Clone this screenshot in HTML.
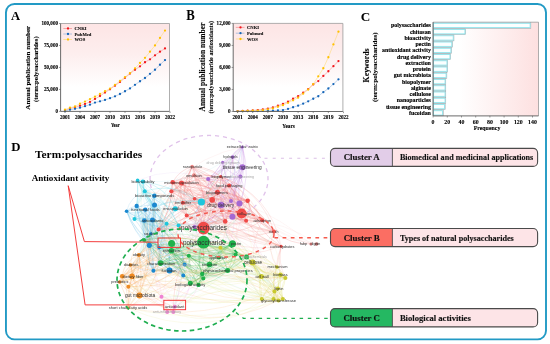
<!DOCTYPE html>
<html><head><meta charset="utf-8"><title>Polysaccharide research overview</title>
<style>
html,body{margin:0;padding:0;background:#fff;}
body{width:550px;height:344px;overflow:hidden;}
svg{display:block;will-change:transform;}
.S{font-family:"Liberation Serif",serif;}
.Sb{font-family:"Liberation Serif",serif;font-weight:bold;}
.A{font-family:"Liberation Sans",sans-serif;}
.Ab{font-family:"Liberation Sans",sans-serif;font-weight:bold;}
</style></head><body>
<svg width="550" height="344" viewBox="0 0 550 344">
<defs>
<linearGradient id="gA" x1="0" y1="0" x2="0" y2="1"><stop offset="0" stop-color="#fde5e5"/><stop offset="0.35" stop-color="#fdeeee"/><stop offset="0.72" stop-color="#ffffff"/></linearGradient>
<linearGradient id="gB" x1="0" y1="0" x2="0" y2="1"><stop offset="0" stop-color="#fde5e5"/><stop offset="0.35" stop-color="#fdeeee"/><stop offset="0.72" stop-color="#ffffff"/></linearGradient>
<linearGradient id="gC" x1="0" y1="0" x2="1" y2="0"><stop offset="0.25" stop-color="#ffffff"/><stop offset="1" stop-color="#fde0e0"/></linearGradient>
</defs>
<rect x="0" y="0" width="550" height="344" fill="#fff"/>

<text x="11.10" y="20.10" font-size="12.6" text-anchor="start" class="Sb" fill="#000" >A</text>
<text transform="translate(186.20,19.80) scale(1,1.12)" font-size="12.8" text-anchor="start" class="Sb" fill="#000" >B</text>
<text x="360.80" y="20.60" font-size="13.2" text-anchor="start" class="Sb" fill="#000" >C</text>
<text transform="translate(11.20,150.80) scale(1,1.05)" font-size="12.8" text-anchor="start" class="Sb" fill="#000" >D</text>
<rect x="60.6" y="23.5" width="108.9" height="87.9" fill="url(#gA)"/>
<path d="M60.6 23.5H169.5V111.4" fill="none" stroke="#9a9a9a" stroke-width="0.8"/>
<polyline points="65.00,110.35 70.00,108.41 75.00,107.36 80.00,105.77 85.00,103.93 90.00,101.91 95.00,98.92 100.00,96.02 105.00,92.50 110.00,89.25 115.00,85.65 120.00,81.95 125.00,77.82 130.00,73.60 135.00,69.74 140.00,66.31 145.00,62.26 150.00,59.28 155.00,55.32 160.00,51.72 165.00,48.46" fill="none" stroke="#f47a7a" stroke-width="0.5"/>
<circle cx="65.00" cy="110.35" r="1.15" fill="#f2151b"/>
<circle cx="70.00" cy="108.41" r="1.15" fill="#f2151b"/>
<circle cx="75.00" cy="107.36" r="1.15" fill="#f2151b"/>
<circle cx="80.00" cy="105.77" r="1.15" fill="#f2151b"/>
<circle cx="85.00" cy="103.93" r="1.15" fill="#f2151b"/>
<circle cx="90.00" cy="101.91" r="1.15" fill="#f2151b"/>
<circle cx="95.00" cy="98.92" r="1.15" fill="#f2151b"/>
<circle cx="100.00" cy="96.02" r="1.15" fill="#f2151b"/>
<circle cx="105.00" cy="92.50" r="1.15" fill="#f2151b"/>
<circle cx="110.00" cy="89.25" r="1.15" fill="#f2151b"/>
<circle cx="115.00" cy="85.65" r="1.15" fill="#f2151b"/>
<circle cx="120.00" cy="81.95" r="1.15" fill="#f2151b"/>
<circle cx="125.00" cy="77.82" r="1.15" fill="#f2151b"/>
<circle cx="130.00" cy="73.60" r="1.15" fill="#f2151b"/>
<circle cx="135.00" cy="69.74" r="1.15" fill="#f2151b"/>
<circle cx="140.00" cy="66.31" r="1.15" fill="#f2151b"/>
<circle cx="145.00" cy="62.26" r="1.15" fill="#f2151b"/>
<circle cx="150.00" cy="59.28" r="1.15" fill="#f2151b"/>
<circle cx="155.00" cy="55.32" r="1.15" fill="#f2151b"/>
<circle cx="160.00" cy="51.72" r="1.15" fill="#f2151b"/>
<circle cx="165.00" cy="48.46" r="1.15" fill="#f2151b"/>
<polyline points="65.00,111.14 70.00,109.64 75.00,108.85 80.00,107.71 85.00,106.13 90.00,104.63 95.00,102.61 100.00,101.29 105.00,99.97 110.00,98.22 115.00,96.28 120.00,94.00 125.00,91.27 130.00,88.46 135.00,84.85 140.00,81.25 145.00,78.00 150.00,73.87 155.00,69.74 160.00,64.73 165.00,60.07" fill="none" stroke="#7fa8d8" stroke-width="0.5"/>
<circle cx="65.00" cy="111.14" r="1.15" fill="#1565b8"/>
<circle cx="70.00" cy="109.64" r="1.15" fill="#1565b8"/>
<circle cx="75.00" cy="108.85" r="1.15" fill="#1565b8"/>
<circle cx="80.00" cy="107.71" r="1.15" fill="#1565b8"/>
<circle cx="85.00" cy="106.13" r="1.15" fill="#1565b8"/>
<circle cx="90.00" cy="104.63" r="1.15" fill="#1565b8"/>
<circle cx="95.00" cy="102.61" r="1.15" fill="#1565b8"/>
<circle cx="100.00" cy="101.29" r="1.15" fill="#1565b8"/>
<circle cx="105.00" cy="99.97" r="1.15" fill="#1565b8"/>
<circle cx="110.00" cy="98.22" r="1.15" fill="#1565b8"/>
<circle cx="115.00" cy="96.28" r="1.15" fill="#1565b8"/>
<circle cx="120.00" cy="94.00" r="1.15" fill="#1565b8"/>
<circle cx="125.00" cy="91.27" r="1.15" fill="#1565b8"/>
<circle cx="130.00" cy="88.46" r="1.15" fill="#1565b8"/>
<circle cx="135.00" cy="84.85" r="1.15" fill="#1565b8"/>
<circle cx="140.00" cy="81.25" r="1.15" fill="#1565b8"/>
<circle cx="145.00" cy="78.00" r="1.15" fill="#1565b8"/>
<circle cx="150.00" cy="73.87" r="1.15" fill="#1565b8"/>
<circle cx="155.00" cy="69.74" r="1.15" fill="#1565b8"/>
<circle cx="160.00" cy="64.73" r="1.15" fill="#1565b8"/>
<circle cx="165.00" cy="60.07" r="1.15" fill="#1565b8"/>
<polyline points="65.00,109.64 70.00,107.71 75.00,106.48 80.00,103.66 85.00,101.56 90.00,99.09 95.00,96.63 100.00,94.00 105.00,91.27 110.00,88.55 115.00,84.85 120.00,80.81 125.00,77.12 130.00,73.08 135.00,68.33 140.00,62.88 145.00,57.87 150.00,51.72 155.00,45.47 160.00,37.92 165.00,30.53" fill="none" stroke="#ffd766" stroke-width="0.5"/>
<circle cx="65.00" cy="109.64" r="1.15" fill="#ffc000"/>
<circle cx="70.00" cy="107.71" r="1.15" fill="#ffc000"/>
<circle cx="75.00" cy="106.48" r="1.15" fill="#ffc000"/>
<circle cx="80.00" cy="103.66" r="1.15" fill="#ffc000"/>
<circle cx="85.00" cy="101.56" r="1.15" fill="#ffc000"/>
<circle cx="90.00" cy="99.09" r="1.15" fill="#ffc000"/>
<circle cx="95.00" cy="96.63" r="1.15" fill="#ffc000"/>
<circle cx="100.00" cy="94.00" r="1.15" fill="#ffc000"/>
<circle cx="105.00" cy="91.27" r="1.15" fill="#ffc000"/>
<circle cx="110.00" cy="88.55" r="1.15" fill="#ffc000"/>
<circle cx="115.00" cy="84.85" r="1.15" fill="#ffc000"/>
<circle cx="120.00" cy="80.81" r="1.15" fill="#ffc000"/>
<circle cx="125.00" cy="77.12" r="1.15" fill="#ffc000"/>
<circle cx="130.00" cy="73.08" r="1.15" fill="#ffc000"/>
<circle cx="135.00" cy="68.33" r="1.15" fill="#ffc000"/>
<circle cx="140.00" cy="62.88" r="1.15" fill="#ffc000"/>
<circle cx="145.00" cy="57.87" r="1.15" fill="#ffc000"/>
<circle cx="150.00" cy="51.72" r="1.15" fill="#ffc000"/>
<circle cx="155.00" cy="45.47" r="1.15" fill="#ffc000"/>
<circle cx="160.00" cy="37.92" r="1.15" fill="#ffc000"/>
<circle cx="165.00" cy="30.53" r="1.15" fill="#ffc000"/>
<path d="M60.6 23.5V111.4H169.5" fill="none" stroke="#5a5a5a" stroke-width="0.9"/>
<line x1="59.0" y1="111.40" x2="60.6" y2="111.40" stroke="#5a5a5a" stroke-width="0.6"/>
<text transform="translate(58.00,113.15) scale(1,1.12)" font-size="5.1" text-anchor="end" class="Sb" fill="#000" stroke="#000" stroke-width="0.12" >0</text>
<line x1="59.0" y1="89.43" x2="60.6" y2="89.43" stroke="#5a5a5a" stroke-width="0.6"/>
<text transform="translate(58.00,91.18) scale(1,1.12)" font-size="5.1" text-anchor="end" class="Sb" fill="#000" stroke="#000" stroke-width="0.12" >25,000</text>
<line x1="59.0" y1="67.45" x2="60.6" y2="67.45" stroke="#5a5a5a" stroke-width="0.6"/>
<text transform="translate(58.00,69.20) scale(1,1.12)" font-size="5.1" text-anchor="end" class="Sb" fill="#000" stroke="#000" stroke-width="0.12" >50,000</text>
<line x1="59.0" y1="45.47" x2="60.6" y2="45.47" stroke="#5a5a5a" stroke-width="0.6"/>
<text transform="translate(58.00,47.22) scale(1,1.12)" font-size="5.1" text-anchor="end" class="Sb" fill="#000" stroke="#000" stroke-width="0.12" >75,000</text>
<line x1="59.0" y1="23.50" x2="60.6" y2="23.50" stroke="#5a5a5a" stroke-width="0.6"/>
<text transform="translate(58.00,25.25) scale(1,1.12)" font-size="5.1" text-anchor="end" class="Sb" fill="#000" stroke="#000" stroke-width="0.12" >100,000</text>
<line x1="65.00" y1="111.4" x2="65.00" y2="113.0" stroke="#5a5a5a" stroke-width="0.6"/>
<text transform="translate(65.00,118.90) scale(1,1.25)" font-size="5.1" text-anchor="middle" class="Sb" fill="#000" stroke="#000" stroke-width="0.12" >2001</text>
<line x1="80.00" y1="111.4" x2="80.00" y2="113.0" stroke="#5a5a5a" stroke-width="0.6"/>
<text transform="translate(80.00,118.90) scale(1,1.25)" font-size="5.1" text-anchor="middle" class="Sb" fill="#000" stroke="#000" stroke-width="0.12" >2004</text>
<line x1="95.00" y1="111.4" x2="95.00" y2="113.0" stroke="#5a5a5a" stroke-width="0.6"/>
<text transform="translate(95.00,118.90) scale(1,1.25)" font-size="5.1" text-anchor="middle" class="Sb" fill="#000" stroke="#000" stroke-width="0.12" >2007</text>
<line x1="110.00" y1="111.4" x2="110.00" y2="113.0" stroke="#5a5a5a" stroke-width="0.6"/>
<text transform="translate(110.00,118.90) scale(1,1.25)" font-size="5.1" text-anchor="middle" class="Sb" fill="#000" stroke="#000" stroke-width="0.12" >2010</text>
<line x1="125.00" y1="111.4" x2="125.00" y2="113.0" stroke="#5a5a5a" stroke-width="0.6"/>
<text transform="translate(125.00,118.90) scale(1,1.25)" font-size="5.1" text-anchor="middle" class="Sb" fill="#000" stroke="#000" stroke-width="0.12" >2013</text>
<line x1="140.00" y1="111.4" x2="140.00" y2="113.0" stroke="#5a5a5a" stroke-width="0.6"/>
<text transform="translate(140.00,118.90) scale(1,1.25)" font-size="5.1" text-anchor="middle" class="Sb" fill="#000" stroke="#000" stroke-width="0.12" >2016</text>
<line x1="155.00" y1="111.4" x2="155.00" y2="113.0" stroke="#5a5a5a" stroke-width="0.6"/>
<text transform="translate(155.00,118.90) scale(1,1.25)" font-size="5.1" text-anchor="middle" class="Sb" fill="#000" stroke="#000" stroke-width="0.12" >2019</text>
<line x1="170.00" y1="111.4" x2="170.00" y2="113.0" stroke="#5a5a5a" stroke-width="0.6"/>
<text transform="translate(170.00,118.90) scale(1,1.25)" font-size="5.1" text-anchor="middle" class="Sb" fill="#000" stroke="#000" stroke-width="0.12" >2022</text>
<text transform="translate(115.30,126.50) scale(1,1.3)" font-size="4.4" text-anchor="middle" class="Sb" fill="#000" stroke="#000" stroke-width="0.1" >Year</text>
<text transform="translate(30.2,67.75) rotate(-90)" font-size="7.05" text-anchor="middle" class="Sb" stroke="#000" stroke-width="0.12">Annual publication number</text>
<text transform="translate(38.2,69.2) rotate(-90)" font-size="6.69" text-anchor="middle" class="Sb" stroke="#000" stroke-width="0.1">(term:polysaccharides)</text>
<rect x="233.2" y="23.4" width="109.69999999999999" height="88.1" fill="url(#gB)"/>
<path d="M233.2 23.4H342.9V111.5" fill="none" stroke="#9a9a9a" stroke-width="0.8"/>
<polyline points="237.60,111.13 242.64,110.91 247.69,110.77 252.73,110.40 257.77,110.03 262.81,109.44 267.86,108.56 272.90,107.39 277.94,105.77 282.99,103.79 288.03,101.74 293.07,98.73 298.11,96.08 303.16,92.63 308.20,89.11 313.24,84.41 318.29,81.03 323.33,75.97 328.37,71.27 333.41,66.13 338.46,61.06" fill="none" stroke="#f47a7a" stroke-width="0.5"/>
<circle cx="237.60" cy="111.13" r="1.15" fill="#f2151b"/>
<circle cx="242.64" cy="110.91" r="1.15" fill="#f2151b"/>
<circle cx="247.69" cy="110.77" r="1.15" fill="#f2151b"/>
<circle cx="252.73" cy="110.40" r="1.15" fill="#f2151b"/>
<circle cx="257.77" cy="110.03" r="1.15" fill="#f2151b"/>
<circle cx="262.81" cy="109.44" r="1.15" fill="#f2151b"/>
<circle cx="267.86" cy="108.56" r="1.15" fill="#f2151b"/>
<circle cx="272.90" cy="107.39" r="1.15" fill="#f2151b"/>
<circle cx="277.94" cy="105.77" r="1.15" fill="#f2151b"/>
<circle cx="282.99" cy="103.79" r="1.15" fill="#f2151b"/>
<circle cx="288.03" cy="101.74" r="1.15" fill="#f2151b"/>
<circle cx="293.07" cy="98.73" r="1.15" fill="#f2151b"/>
<circle cx="298.11" cy="96.08" r="1.15" fill="#f2151b"/>
<circle cx="303.16" cy="92.63" r="1.15" fill="#f2151b"/>
<circle cx="308.20" cy="89.11" r="1.15" fill="#f2151b"/>
<circle cx="313.24" cy="84.41" r="1.15" fill="#f2151b"/>
<circle cx="318.29" cy="81.03" r="1.15" fill="#f2151b"/>
<circle cx="323.33" cy="75.97" r="1.15" fill="#f2151b"/>
<circle cx="328.37" cy="71.27" r="1.15" fill="#f2151b"/>
<circle cx="333.41" cy="66.13" r="1.15" fill="#f2151b"/>
<circle cx="338.46" cy="61.06" r="1.15" fill="#f2151b"/>
<polyline points="237.60,111.35 242.64,111.28 247.69,111.21 252.73,111.13 257.77,111.06 262.81,110.91 267.86,110.77 272.90,110.55 277.94,110.33 282.99,110.03 288.03,108.93 293.07,107.24 298.11,105.63 303.16,103.64 308.20,101.30 313.24,98.73 318.29,96.23 323.33,92.19 328.37,88.52 333.41,84.04 338.46,79.34" fill="none" stroke="#7fa8d8" stroke-width="0.5"/>
<circle cx="237.60" cy="111.35" r="1.15" fill="#1565b8"/>
<circle cx="242.64" cy="111.28" r="1.15" fill="#1565b8"/>
<circle cx="247.69" cy="111.21" r="1.15" fill="#1565b8"/>
<circle cx="252.73" cy="111.13" r="1.15" fill="#1565b8"/>
<circle cx="257.77" cy="111.06" r="1.15" fill="#1565b8"/>
<circle cx="262.81" cy="110.91" r="1.15" fill="#1565b8"/>
<circle cx="267.86" cy="110.77" r="1.15" fill="#1565b8"/>
<circle cx="272.90" cy="110.55" r="1.15" fill="#1565b8"/>
<circle cx="277.94" cy="110.33" r="1.15" fill="#1565b8"/>
<circle cx="282.99" cy="110.03" r="1.15" fill="#1565b8"/>
<circle cx="288.03" cy="108.93" r="1.15" fill="#1565b8"/>
<circle cx="293.07" cy="107.24" r="1.15" fill="#1565b8"/>
<circle cx="298.11" cy="105.63" r="1.15" fill="#1565b8"/>
<circle cx="303.16" cy="103.64" r="1.15" fill="#1565b8"/>
<circle cx="308.20" cy="101.30" r="1.15" fill="#1565b8"/>
<circle cx="313.24" cy="98.73" r="1.15" fill="#1565b8"/>
<circle cx="318.29" cy="96.23" r="1.15" fill="#1565b8"/>
<circle cx="323.33" cy="92.19" r="1.15" fill="#1565b8"/>
<circle cx="328.37" cy="88.52" r="1.15" fill="#1565b8"/>
<circle cx="333.41" cy="84.04" r="1.15" fill="#1565b8"/>
<circle cx="338.46" cy="79.34" r="1.15" fill="#1565b8"/>
<polyline points="237.60,111.28 242.64,111.13 247.69,110.99 252.73,110.77 257.77,110.55 262.81,110.18 267.86,109.30 272.90,108.42 277.94,106.73 282.99,105.19 288.03,102.84 293.07,100.34 298.11,97.70 303.16,93.66 308.20,89.55 313.24,84.04 318.29,76.33 323.33,68.26 328.37,57.25 333.41,44.40 338.46,31.70" fill="none" stroke="#ffd766" stroke-width="0.5"/>
<circle cx="237.60" cy="111.28" r="1.15" fill="#ffc000"/>
<circle cx="242.64" cy="111.13" r="1.15" fill="#ffc000"/>
<circle cx="247.69" cy="110.99" r="1.15" fill="#ffc000"/>
<circle cx="252.73" cy="110.77" r="1.15" fill="#ffc000"/>
<circle cx="257.77" cy="110.55" r="1.15" fill="#ffc000"/>
<circle cx="262.81" cy="110.18" r="1.15" fill="#ffc000"/>
<circle cx="267.86" cy="109.30" r="1.15" fill="#ffc000"/>
<circle cx="272.90" cy="108.42" r="1.15" fill="#ffc000"/>
<circle cx="277.94" cy="106.73" r="1.15" fill="#ffc000"/>
<circle cx="282.99" cy="105.19" r="1.15" fill="#ffc000"/>
<circle cx="288.03" cy="102.84" r="1.15" fill="#ffc000"/>
<circle cx="293.07" cy="100.34" r="1.15" fill="#ffc000"/>
<circle cx="298.11" cy="97.70" r="1.15" fill="#ffc000"/>
<circle cx="303.16" cy="93.66" r="1.15" fill="#ffc000"/>
<circle cx="308.20" cy="89.55" r="1.15" fill="#ffc000"/>
<circle cx="313.24" cy="84.04" r="1.15" fill="#ffc000"/>
<circle cx="318.29" cy="76.33" r="1.15" fill="#ffc000"/>
<circle cx="323.33" cy="68.26" r="1.15" fill="#ffc000"/>
<circle cx="328.37" cy="57.25" r="1.15" fill="#ffc000"/>
<circle cx="333.41" cy="44.40" r="1.15" fill="#ffc000"/>
<circle cx="338.46" cy="31.70" r="1.15" fill="#ffc000"/>
<path d="M233.2 23.4V111.5H342.9" fill="none" stroke="#5a5a5a" stroke-width="0.9"/>
<line x1="231.6" y1="111.50" x2="233.2" y2="111.50" stroke="#5a5a5a" stroke-width="0.6"/>
<text transform="translate(230.60,113.25) scale(1,1.12)" font-size="5.1" text-anchor="end" class="Sb" fill="#000" stroke="#000" stroke-width="0.12" >0</text>
<line x1="231.6" y1="89.47" x2="233.2" y2="89.47" stroke="#5a5a5a" stroke-width="0.6"/>
<text transform="translate(230.60,91.22) scale(1,1.12)" font-size="5.1" text-anchor="end" class="Sb" fill="#000" stroke="#000" stroke-width="0.12" >3,000</text>
<line x1="231.6" y1="67.45" x2="233.2" y2="67.45" stroke="#5a5a5a" stroke-width="0.6"/>
<text transform="translate(230.60,69.20) scale(1,1.12)" font-size="5.1" text-anchor="end" class="Sb" fill="#000" stroke="#000" stroke-width="0.12" >6,000</text>
<line x1="231.6" y1="45.43" x2="233.2" y2="45.43" stroke="#5a5a5a" stroke-width="0.6"/>
<text transform="translate(230.60,47.18) scale(1,1.12)" font-size="5.1" text-anchor="end" class="Sb" fill="#000" stroke="#000" stroke-width="0.12" >9,000</text>
<line x1="231.6" y1="23.40" x2="233.2" y2="23.40" stroke="#5a5a5a" stroke-width="0.6"/>
<text transform="translate(230.60,25.15) scale(1,1.12)" font-size="5.1" text-anchor="end" class="Sb" fill="#000" stroke="#000" stroke-width="0.12" >12,000</text>
<line x1="237.60" y1="111.5" x2="237.60" y2="113.1" stroke="#5a5a5a" stroke-width="0.6"/>
<text transform="translate(237.60,119.00) scale(1,1.25)" font-size="5.1" text-anchor="middle" class="Sb" fill="#000" stroke="#000" stroke-width="0.12" >2001</text>
<line x1="252.73" y1="111.5" x2="252.73" y2="113.1" stroke="#5a5a5a" stroke-width="0.6"/>
<text transform="translate(252.73,119.00) scale(1,1.25)" font-size="5.1" text-anchor="middle" class="Sb" fill="#000" stroke="#000" stroke-width="0.12" >2004</text>
<line x1="267.86" y1="111.5" x2="267.86" y2="113.1" stroke="#5a5a5a" stroke-width="0.6"/>
<text transform="translate(267.86,119.00) scale(1,1.25)" font-size="5.1" text-anchor="middle" class="Sb" fill="#000" stroke="#000" stroke-width="0.12" >2007</text>
<line x1="282.99" y1="111.5" x2="282.99" y2="113.1" stroke="#5a5a5a" stroke-width="0.6"/>
<text transform="translate(282.99,119.00) scale(1,1.25)" font-size="5.1" text-anchor="middle" class="Sb" fill="#000" stroke="#000" stroke-width="0.12" >2010</text>
<line x1="298.11" y1="111.5" x2="298.11" y2="113.1" stroke="#5a5a5a" stroke-width="0.6"/>
<text transform="translate(298.11,119.00) scale(1,1.25)" font-size="5.1" text-anchor="middle" class="Sb" fill="#000" stroke="#000" stroke-width="0.12" >2013</text>
<line x1="313.24" y1="111.5" x2="313.24" y2="113.1" stroke="#5a5a5a" stroke-width="0.6"/>
<text transform="translate(313.24,119.00) scale(1,1.25)" font-size="5.1" text-anchor="middle" class="Sb" fill="#000" stroke="#000" stroke-width="0.12" >2016</text>
<line x1="328.37" y1="111.5" x2="328.37" y2="113.1" stroke="#5a5a5a" stroke-width="0.6"/>
<text transform="translate(328.37,119.00) scale(1,1.25)" font-size="5.1" text-anchor="middle" class="Sb" fill="#000" stroke="#000" stroke-width="0.12" >2019</text>
<line x1="343.50" y1="111.5" x2="343.50" y2="113.1" stroke="#5a5a5a" stroke-width="0.6"/>
<text transform="translate(343.50,119.00) scale(1,1.25)" font-size="5.1" text-anchor="middle" class="Sb" fill="#000" stroke="#000" stroke-width="0.12" >2022</text>
<text transform="translate(288.50,128.20) scale(1,1.15)" font-size="5.2" text-anchor="middle" class="Sb" fill="#000" stroke="#000" stroke-width="0.1" >Years</text>
<text transform="translate(204.6,67.1) rotate(-90)" font-size="7.47" text-anchor="middle" class="Sb" stroke="#000" stroke-width="0.12">Annual publication number</text>
<text transform="translate(213.2,67.2) rotate(-90)" font-size="6.19" text-anchor="middle" class="Sb" stroke="#000" stroke-width="0.1">(term:polysaccharide antioxidants)</text>
<line x1="63.3" y1="28.50" x2="72.0" y2="28.50" stroke="#f47a7a" stroke-width="0.6"/>
<circle cx="68.00" cy="28.50" r="1.15" fill="#f2151b"/>
<text x="74.50" y="30.05" font-size="4.6" text-anchor="start" class="Sb" fill="#000" stroke="#000" stroke-width="0.08" >CNKI</text>
<line x1="63.3" y1="34.00" x2="72.0" y2="34.00" stroke="#7fa8d8" stroke-width="0.6"/>
<circle cx="68.00" cy="34.00" r="1.15" fill="#1565b8"/>
<text x="74.50" y="35.55" font-size="4.6" text-anchor="start" class="Sb" fill="#000" stroke="#000" stroke-width="0.08" >PubMed</text>
<line x1="63.3" y1="39.50" x2="72.0" y2="39.50" stroke="#ffd766" stroke-width="0.6"/>
<circle cx="68.00" cy="39.50" r="1.15" fill="#ffc000"/>
<text x="74.50" y="41.05" font-size="4.6" text-anchor="start" class="Sb" fill="#000" stroke="#000" stroke-width="0.08" >WOS</text>
<line x1="235.8" y1="27.40" x2="244.5" y2="27.40" stroke="#f47a7a" stroke-width="0.6"/>
<circle cx="240.50" cy="27.40" r="1.15" fill="#f2151b"/>
<text x="247.00" y="28.95" font-size="4.6" text-anchor="start" class="Sb" fill="#000" stroke="#000" stroke-width="0.08" >CNKI</text>
<line x1="235.8" y1="33.20" x2="244.5" y2="33.20" stroke="#7fa8d8" stroke-width="0.6"/>
<circle cx="240.50" cy="33.20" r="1.15" fill="#1565b8"/>
<text x="247.00" y="34.75" font-size="4.6" text-anchor="start" class="Sb" fill="#000" stroke="#000" stroke-width="0.08" >Pubmed</text>
<line x1="235.8" y1="39.00" x2="244.5" y2="39.00" stroke="#ffd766" stroke-width="0.6"/>
<circle cx="240.50" cy="39.00" r="1.15" fill="#ffc000"/>
<text x="247.00" y="40.55" font-size="4.6" text-anchor="start" class="Sb" fill="#000" stroke="#000" stroke-width="0.08" >WOS</text>
<rect x="433.1" y="22.2" width="105.39999999999998" height="93.7" fill="url(#gC)"/>
<path d="M433.1 22.2H538.5V115.9" fill="none" stroke="#9a9a9a" stroke-width="0.8"/>
<rect x="433.1" y="22.55" width="97.70" height="5.8" fill="#fbffff" stroke="#9ca8ac" stroke-width="0.6"/>
<rect x="433.6" y="23.30" width="96.50" height="4.3" fill="none" stroke="#86e2ea" stroke-width="0.8"/>
<text x="430.90" y="27.35" font-size="5.9" text-anchor="end" class="Sb" fill="#000" stroke="#000" stroke-width="0.14" >polysaccharides</text>
<rect x="433.1" y="28.80" width="32.52" height="5.8" fill="#fbffff" stroke="#9ca8ac" stroke-width="0.6"/>
<rect x="433.6" y="29.55" width="31.32" height="4.3" fill="none" stroke="#86e2ea" stroke-width="0.8"/>
<text x="430.90" y="33.60" font-size="5.9" text-anchor="end" class="Sb" fill="#000" stroke="#000" stroke-width="0.14" >chitosan</text>
<rect x="433.1" y="35.04" width="20.80" height="5.8" fill="#fbffff" stroke="#9ca8ac" stroke-width="0.6"/>
<rect x="433.6" y="35.79" width="19.60" height="4.3" fill="none" stroke="#86e2ea" stroke-width="0.8"/>
<text x="430.90" y="39.84" font-size="5.9" text-anchor="end" class="Sb" fill="#000" stroke="#000" stroke-width="0.14" >bioactivity</text>
<rect x="433.1" y="41.29" width="19.38" height="5.8" fill="#fbffff" stroke="#9ca8ac" stroke-width="0.6"/>
<rect x="433.6" y="42.04" width="18.18" height="4.3" fill="none" stroke="#86e2ea" stroke-width="0.8"/>
<text x="430.90" y="46.09" font-size="5.9" text-anchor="end" class="Sb" fill="#000" stroke="#000" stroke-width="0.14" >pectin</text>
<rect x="433.1" y="47.53" width="18.46" height="5.8" fill="#fbffff" stroke="#9ca8ac" stroke-width="0.6"/>
<rect x="433.6" y="48.28" width="17.26" height="4.3" fill="none" stroke="#86e2ea" stroke-width="0.8"/>
<text x="430.90" y="52.33" font-size="5.9" text-anchor="end" class="Sb" fill="#000" stroke="#000" stroke-width="0.14" >antioxidant activity</text>
<rect x="433.1" y="53.78" width="17.54" height="5.8" fill="#fbffff" stroke="#9ca8ac" stroke-width="0.6"/>
<rect x="433.6" y="54.53" width="16.34" height="4.3" fill="none" stroke="#86e2ea" stroke-width="0.8"/>
<text x="430.90" y="58.58" font-size="5.9" text-anchor="end" class="Sb" fill="#000" stroke="#000" stroke-width="0.14" >drug delivery</text>
<rect x="433.1" y="60.03" width="14.55" height="5.8" fill="#fbffff" stroke="#9ca8ac" stroke-width="0.6"/>
<rect x="433.6" y="60.78" width="13.36" height="4.3" fill="none" stroke="#86e2ea" stroke-width="0.8"/>
<text x="430.90" y="64.83" font-size="5.9" text-anchor="end" class="Sb" fill="#000" stroke="#000" stroke-width="0.14" >extraction</text>
<rect x="433.1" y="66.27" width="14.55" height="5.8" fill="#fbffff" stroke="#9ca8ac" stroke-width="0.6"/>
<rect x="433.6" y="67.02" width="13.36" height="4.3" fill="none" stroke="#86e2ea" stroke-width="0.8"/>
<text x="430.90" y="71.07" font-size="5.9" text-anchor="end" class="Sb" fill="#000" stroke="#000" stroke-width="0.14" >protein</text>
<rect x="433.1" y="72.52" width="13.70" height="5.8" fill="#fbffff" stroke="#9ca8ac" stroke-width="0.6"/>
<rect x="433.6" y="73.27" width="12.50" height="4.3" fill="none" stroke="#86e2ea" stroke-width="0.8"/>
<text x="430.90" y="77.32" font-size="5.9" text-anchor="end" class="Sb" fill="#000" stroke="#000" stroke-width="0.14" >gut microbiota</text>
<rect x="433.1" y="78.76" width="12.64" height="5.8" fill="#fbffff" stroke="#9ca8ac" stroke-width="0.6"/>
<rect x="433.6" y="79.51" width="11.44" height="4.3" fill="none" stroke="#86e2ea" stroke-width="0.8"/>
<text x="430.90" y="83.56" font-size="5.9" text-anchor="end" class="Sb" fill="#000" stroke="#000" stroke-width="0.14" >biopolymer</text>
<rect x="433.1" y="85.01" width="12.64" height="5.8" fill="#fbffff" stroke="#9ca8ac" stroke-width="0.6"/>
<rect x="433.6" y="85.76" width="11.44" height="4.3" fill="none" stroke="#86e2ea" stroke-width="0.8"/>
<text x="430.90" y="89.81" font-size="5.9" text-anchor="end" class="Sb" fill="#000" stroke="#000" stroke-width="0.14" >alginate</text>
<rect x="433.1" y="91.26" width="12.64" height="5.8" fill="#fbffff" stroke="#9ca8ac" stroke-width="0.6"/>
<rect x="433.6" y="92.01" width="11.44" height="4.3" fill="none" stroke="#86e2ea" stroke-width="0.8"/>
<text x="430.90" y="96.06" font-size="5.9" text-anchor="end" class="Sb" fill="#000" stroke="#000" stroke-width="0.14" >cellulose</text>
<rect x="433.1" y="97.50" width="12.64" height="5.8" fill="#fbffff" stroke="#9ca8ac" stroke-width="0.6"/>
<rect x="433.6" y="98.25" width="11.44" height="4.3" fill="none" stroke="#86e2ea" stroke-width="0.8"/>
<text x="430.90" y="102.30" font-size="5.9" text-anchor="end" class="Sb" fill="#000" stroke="#000" stroke-width="0.14" >nanoparticles</text>
<rect x="433.1" y="103.75" width="12.07" height="5.8" fill="#fbffff" stroke="#9ca8ac" stroke-width="0.6"/>
<rect x="433.6" y="104.50" width="10.87" height="4.3" fill="none" stroke="#86e2ea" stroke-width="0.8"/>
<text x="430.90" y="108.55" font-size="5.9" text-anchor="end" class="Sb" fill="#000" stroke="#000" stroke-width="0.14" >tissue engineering</text>
<rect x="433.1" y="109.99" width="10.15" height="5.8" fill="#fbffff" stroke="#9ca8ac" stroke-width="0.6"/>
<rect x="433.6" y="110.74" width="8.95" height="4.3" fill="none" stroke="#86e2ea" stroke-width="0.8"/>
<text x="430.90" y="114.79" font-size="5.9" text-anchor="end" class="Sb" fill="#000" stroke="#000" stroke-width="0.14" >fucoidan</text>
<path d="M433.1 22.2V115.9H538.5" fill="none" stroke="#5a5a5a" stroke-width="0.9"/>
<line x1="433.10" y1="115.9" x2="433.10" y2="117.5" stroke="#5a5a5a" stroke-width="0.6"/>
<text x="433.10" y="123.60" font-size="5.9" text-anchor="middle" class="Sb" fill="#000" stroke="#000" stroke-width="0.1" >0</text>
<line x1="447.30" y1="115.9" x2="447.30" y2="117.5" stroke="#5a5a5a" stroke-width="0.6"/>
<text x="447.30" y="123.60" font-size="5.9" text-anchor="middle" class="Sb" fill="#000" stroke="#000" stroke-width="0.1" >20</text>
<line x1="461.50" y1="115.9" x2="461.50" y2="117.5" stroke="#5a5a5a" stroke-width="0.6"/>
<text x="461.50" y="123.60" font-size="5.9" text-anchor="middle" class="Sb" fill="#000" stroke="#000" stroke-width="0.1" >40</text>
<line x1="475.70" y1="115.9" x2="475.70" y2="117.5" stroke="#5a5a5a" stroke-width="0.6"/>
<text x="475.70" y="123.60" font-size="5.9" text-anchor="middle" class="Sb" fill="#000" stroke="#000" stroke-width="0.1" >60</text>
<line x1="489.90" y1="115.9" x2="489.90" y2="117.5" stroke="#5a5a5a" stroke-width="0.6"/>
<text x="489.90" y="123.60" font-size="5.9" text-anchor="middle" class="Sb" fill="#000" stroke="#000" stroke-width="0.1" >80</text>
<line x1="504.10" y1="115.9" x2="504.10" y2="117.5" stroke="#5a5a5a" stroke-width="0.6"/>
<text x="504.10" y="123.60" font-size="5.9" text-anchor="middle" class="Sb" fill="#000" stroke="#000" stroke-width="0.1" >100</text>
<line x1="518.30" y1="115.9" x2="518.30" y2="117.5" stroke="#5a5a5a" stroke-width="0.6"/>
<text x="518.30" y="123.60" font-size="5.9" text-anchor="middle" class="Sb" fill="#000" stroke="#000" stroke-width="0.1" >120</text>
<line x1="532.50" y1="115.9" x2="532.50" y2="117.5" stroke="#5a5a5a" stroke-width="0.6"/>
<text x="532.50" y="123.60" font-size="5.9" text-anchor="middle" class="Sb" fill="#000" stroke="#000" stroke-width="0.1" >140</text>
<text x="487.00" y="129.80" font-size="5.9" text-anchor="middle" class="Sb" fill="#000" stroke="#000" stroke-width="0.1" >Frequency</text>
<text transform="translate(369.2,65.4) rotate(-90)" font-size="7.85" text-anchor="middle" class="Sb" stroke="#000" stroke-width="0.1">Keywords</text>
<text transform="translate(376.6,67.2) rotate(-90)" font-size="7.1" text-anchor="middle" class="Sb" stroke="#000" stroke-width="0.1">(term:polysaccharides)</text>
<text x="35.00" y="158.40" font-size="11.4" text-anchor="start" class="Sb" fill="#000" >Term:polysaccharides</text>
<text x="31.70" y="181.30" font-size="9.1" text-anchor="start" class="Sb" fill="#000" >Antioxidant activity</text>
<g fill="none" stroke-width="0.45">
<path d="M242.3 146.9Q235.2 149.8 232.7 157.1" stroke="#c080e0" stroke-opacity="0.50"/>
<path d="M242.3 146.9Q235.5 158.5 222.6 162.2" stroke="#c080e0" stroke-opacity="0.50"/>
<path d="M242.3 146.9Q236.2 161.4 240.4 176.6" stroke="#c080e0" stroke-opacity="0.50"/>
<path d="M242.3 146.9Q231.1 169.3 208.1 179.1" stroke="#c080e0" stroke-opacity="0.50"/>
<path d="M242.3 146.9Q242.5 179.9 221.0 205.0" stroke="#c080e0" stroke-opacity="0.50"/>
<path d="M242.3 146.9Q249.3 176.6 231.0 201.0" stroke="#c080e0" stroke-opacity="0.50"/>
<path d="M242.3 146.9Q251.6 175.7 239.5 203.5" stroke="#c080e0" stroke-opacity="0.50"/>
<path d="M242.3 146.9Q245.4 183.0 232.4 216.8" stroke="#c080e0" stroke-opacity="0.35"/>
<path d="M242.3 146.9Q203.7 178.1 194.4 226.9" stroke="#c080e0" stroke-opacity="0.35"/>
<path d="M242.3 146.9Q224.8 156.9 220.7 176.6" stroke="#c080e0" stroke-opacity="0.35"/>
<path d="M232.7 157.1Q226.8 158.0 222.6 162.2" stroke="#c080e0" stroke-opacity="0.50"/>
<path d="M232.7 157.1Q230.7 169.2 240.4 176.6" stroke="#c080e0" stroke-opacity="0.50"/>
<path d="M232.7 157.1Q223.0 171.0 208.1 179.1" stroke="#c080e0" stroke-opacity="0.50"/>
<path d="M232.7 157.1Q225.9 181.8 239.5 203.5" stroke="#c080e0" stroke-opacity="0.50"/>
<path d="M232.7 157.1Q237.6 187.0 232.4 216.8" stroke="#c080e0" stroke-opacity="0.50"/>
<path d="M232.7 157.1Q231.2 169.6 220.7 176.6" stroke="#c080e0" stroke-opacity="0.35"/>
<path d="M232.7 157.1Q209.1 206.5 235.6 254.4" stroke="#c080e0" stroke-opacity="0.17"/>
<path d="M222.6 162.2Q233.5 160.9 242.5 167.3" stroke="#c080e0" stroke-opacity="0.50"/>
<path d="M222.6 162.2Q227.9 173.8 240.4 176.6" stroke="#c080e0" stroke-opacity="0.50"/>
<path d="M222.6 162.2Q216.8 171.9 208.1 179.1" stroke="#c080e0" stroke-opacity="0.50"/>
<path d="M222.6 162.2Q218.4 183.4 231.0 201.0" stroke="#c080e0" stroke-opacity="0.50"/>
<path d="M222.6 162.2Q226.9 184.6 239.5 203.5" stroke="#c080e0" stroke-opacity="0.50"/>
<path d="M222.6 162.2Q198.5 190.2 194.4 226.9" stroke="#c080e0" stroke-opacity="0.35"/>
<path d="M222.6 162.2Q223.7 169.7 220.7 176.6" stroke="#c080e0" stroke-opacity="0.35"/>
<path d="M222.6 162.2Q204.3 209.3 218.9 257.6" stroke="#c080e0" stroke-opacity="0.17"/>
<path d="M222.6 162.2Q216.0 250.6 139.5 295.5" stroke="#c080e0" stroke-opacity="0.17"/>
<path d="M242.5 167.3Q245.6 157.1 242.3 146.9" stroke="#c080e0" stroke-opacity="0.50"/>
<path d="M242.5 167.3Q239.3 160.5 232.7 157.1" stroke="#c080e0" stroke-opacity="0.50"/>
<path d="M242.5 167.3Q222.1 163.8 208.1 179.1" stroke="#c080e0" stroke-opacity="0.50"/>
<path d="M242.5 167.3Q220.6 179.8 221.0 205.0" stroke="#c080e0" stroke-opacity="0.50"/>
<path d="M242.5 167.3Q228.2 181.2 231.0 201.0" stroke="#c080e0" stroke-opacity="0.50"/>
<path d="M242.5 167.3Q236.6 185.0 239.5 203.5" stroke="#c080e0" stroke-opacity="0.50"/>
<path d="M242.5 167.3Q232.1 191.0 232.4 216.8" stroke="#c080e0" stroke-opacity="0.50"/>
<path d="M242.5 167.3Q240.4 179.7 229.2 185.4" stroke="#c080e0" stroke-opacity="0.35"/>
<path d="M242.5 167.3Q200.3 245.3 119.6 282.0" stroke="#c080e0" stroke-opacity="0.17"/>
<path d="M240.4 176.6Q243.3 172.4 242.5 167.3" stroke="#c080e0" stroke-opacity="0.50"/>
<path d="M240.4 176.6Q224.7 183.3 208.1 179.1" stroke="#c080e0" stroke-opacity="0.50"/>
<path d="M240.4 176.6Q237.7 189.6 231.0 201.0" stroke="#c080e0" stroke-opacity="0.50"/>
<path d="M240.4 176.6Q247.0 190.3 239.5 203.5" stroke="#c080e0" stroke-opacity="0.50"/>
<path d="M240.4 176.6Q227.8 195.0 232.4 216.8" stroke="#c080e0" stroke-opacity="0.50"/>
<path d="M240.4 176.6Q230.2 213.4 194.4 226.9" stroke="#c080e0" stroke-opacity="0.50"/>
<path d="M240.4 176.6Q232.9 178.6 229.2 185.4" stroke="#c080e0" stroke-opacity="0.35"/>
<path d="M240.4 176.6Q230.6 179.1 220.7 176.6" stroke="#c080e0" stroke-opacity="0.35"/>
<path d="M240.4 176.6Q197.4 205.0 188.8 255.8" stroke="#c080e0" stroke-opacity="0.17"/>
<path d="M240.4 176.6Q214.5 230.8 169.5 270.4" stroke="#c080e0" stroke-opacity="0.17"/>
<path d="M208.1 179.1Q221.6 188.6 221.0 205.0" stroke="#c080e0" stroke-opacity="0.50"/>
<path d="M208.1 179.1Q217.7 199.2 239.5 203.5" stroke="#c080e0" stroke-opacity="0.50"/>
<path d="M208.1 179.1Q226.3 194.0 232.4 216.8" stroke="#c080e0" stroke-opacity="0.50"/>
<path d="M208.1 179.1Q213.3 206.5 194.4 226.9" stroke="#c080e0" stroke-opacity="0.50"/>
<path d="M208.1 179.1Q215.1 181.2 220.7 176.6" stroke="#c080e0" stroke-opacity="0.35"/>
<path d="M208.1 179.1Q200.4 179.6 194.0 175.3" stroke="#c080e0" stroke-opacity="0.35"/>
<path d="M208.1 179.1Q211.6 186.5 217.4 192.3" stroke="#c080e0" stroke-opacity="0.35"/>
<path d="M208.1 179.1Q197.7 175.9 192.1 166.6" stroke="#c080e0" stroke-opacity="0.35"/>
<path d="M208.1 179.1Q215.6 188.4 212.2 199.9" stroke="#c080e0" stroke-opacity="0.35"/>
<path d="M208.1 179.1Q172.6 165.2 137.6 180.4" stroke="#c080e0" stroke-opacity="0.17"/>
<path d="M221.0 205.0Q229.4 183.9 222.6 162.2" stroke="#c080e0" stroke-opacity="0.50"/>
<path d="M221.0 205.0Q229.9 200.0 239.5 203.5" stroke="#c080e0" stroke-opacity="0.50"/>
<path d="M221.0 205.0Q228.9 208.8 232.4 216.8" stroke="#c080e0" stroke-opacity="0.50"/>
<path d="M221.0 205.0Q217.6 200.7 212.2 199.9" stroke="#c080e0" stroke-opacity="0.35"/>
<path d="M221.0 205.0Q216.4 199.4 217.4 192.3" stroke="#c080e0" stroke-opacity="0.35"/>
<path d="M221.0 205.0Q227.6 212.0 225.2 221.4" stroke="#c080e0" stroke-opacity="0.35"/>
<path d="M221.0 205.0Q204.2 236.5 171.4 250.8" stroke="#c080e0" stroke-opacity="0.25"/>
<path d="M231.0 201.0Q226.9 205.3 221.0 205.0" stroke="#c080e0" stroke-opacity="0.50"/>
<path d="M231.0 201.0Q236.4 208.5 232.4 216.8" stroke="#c080e0" stroke-opacity="0.50"/>
<path d="M231.0 201.0Q216.0 218.6 194.4 226.9" stroke="#c080e0" stroke-opacity="0.50"/>
<path d="M231.0 201.0Q228.4 193.4 229.2 185.4" stroke="#c080e0" stroke-opacity="0.35"/>
<path d="M231.0 201.0Q223.0 198.6 217.4 192.3" stroke="#c080e0" stroke-opacity="0.35"/>
<path d="M231.0 201.0Q203.5 237.2 159.2 247.7" stroke="#c080e0" stroke-opacity="0.17"/>
<path d="M231.0 201.0Q241.0 232.7 218.9 257.6" stroke="#c080e0" stroke-opacity="0.25"/>
<path d="M239.5 203.5Q235.9 200.1 231.0 201.0" stroke="#c080e0" stroke-opacity="0.50"/>
<path d="M239.5 203.5Q239.1 211.9 232.4 216.8" stroke="#c080e0" stroke-opacity="0.50"/>
<path d="M239.5 203.5Q220.3 221.7 194.4 226.9" stroke="#c080e0" stroke-opacity="0.50"/>
<path d="M239.5 203.5Q244.1 203.6 247.7 200.7" stroke="#c080e0" stroke-opacity="0.35"/>
<path d="M239.5 203.5Q237.7 209.1 241.6 213.5" stroke="#c080e0" stroke-opacity="0.35"/>
<path d="M239.5 203.5Q246.9 210.5 246.1 220.7" stroke="#c080e0" stroke-opacity="0.35"/>
<path d="M239.5 203.5Q216.6 205.3 194.6 198.7" stroke="#c080e0" stroke-opacity="0.25"/>
<path d="M239.5 203.5Q267.4 218.0 281.2 246.3" stroke="#c080e0" stroke-opacity="0.25"/>
<path d="M232.4 216.8Q211.0 212.7 194.4 226.9" stroke="#c080e0" stroke-opacity="0.50"/>
<path d="M232.4 216.8Q230.1 221.2 225.2 221.4" stroke="#c080e0" stroke-opacity="0.35"/>
<path d="M232.4 216.8Q237.7 217.1 241.6 213.5" stroke="#c080e0" stroke-opacity="0.35"/>
<path d="M232.4 216.8Q238.6 221.0 246.1 220.7" stroke="#c080e0" stroke-opacity="0.35"/>
<path d="M232.4 216.8Q220.2 242.7 227.6 270.4" stroke="#c080e0" stroke-opacity="0.25"/>
<path d="M232.4 216.8Q263.2 247.5 277.9 288.4" stroke="#c080e0" stroke-opacity="0.17"/>
<path d="M194.4 226.9Q204.2 211.7 221.0 205.0" stroke="#c080e0" stroke-opacity="0.50"/>
<path d="M194.4 226.9Q199.2 225.5 203.5 228.1" stroke="#c080e0" stroke-opacity="0.35"/>
<path d="M194.4 226.9Q192.7 219.8 186.7 215.5" stroke="#c080e0" stroke-opacity="0.35"/>
<path d="M194.4 226.9Q186.9 221.7 178.6 225.5" stroke="#c080e0" stroke-opacity="0.35"/>
<path d="M194.4 226.9Q196.7 235.9 203.5 242.2" stroke="#c080e0" stroke-opacity="0.35"/>
<path d="M194.4 226.9Q192.5 212.9 201.4 202.0" stroke="#c080e0" stroke-opacity="0.35"/>
<path d="M194.4 226.9Q171.2 227.8 159.2 247.7" stroke="#c080e0" stroke-opacity="0.25"/>
<path d="M192.1 166.6Q195.3 170.5 194.0 175.3" stroke="#f27a78" stroke-opacity="0.50"/>
<path d="M192.1 166.6Q179.1 170.4 172.7 182.3" stroke="#f27a78" stroke-opacity="0.50"/>
<path d="M192.1 166.6Q185.7 182.3 171.3 191.3" stroke="#f27a78" stroke-opacity="0.50"/>
<path d="M192.1 166.6Q204.3 177.7 220.7 176.6" stroke="#f27a78" stroke-opacity="0.50"/>
<path d="M192.1 166.6Q215.5 166.4 229.2 185.4" stroke="#f27a78" stroke-opacity="0.50"/>
<path d="M192.1 166.6Q194.4 187.9 212.2 199.9" stroke="#f27a78" stroke-opacity="0.50"/>
<path d="M192.1 166.6Q215.2 191.3 247.7 200.7" stroke="#f27a78" stroke-opacity="0.50"/>
<path d="M192.1 166.6Q183.4 183.6 182.9 202.7" stroke="#f27a78" stroke-opacity="0.50"/>
<path d="M192.1 166.6Q226.9 185.9 246.1 220.7" stroke="#f27a78" stroke-opacity="0.35"/>
<path d="M192.1 166.6Q241.1 175.2 262.3 220.2" stroke="#f27a78" stroke-opacity="0.35"/>
<path d="M192.1 166.6Q242.2 187.6 274.0 231.5" stroke="#f27a78" stroke-opacity="0.35"/>
<path d="M192.1 166.6Q165.5 192.8 158.6 229.4" stroke="#f27a78" stroke-opacity="0.35"/>
<path d="M192.1 166.6Q210.0 195.1 203.5 228.1" stroke="#f27a78" stroke-opacity="0.50"/>
<path d="M192.1 166.6Q198.2 185.9 217.4 192.3" stroke="#f27a78" stroke-opacity="0.25"/>
<path d="M194.0 175.3Q189.7 182.3 181.5 183.0" stroke="#f27a78" stroke-opacity="0.50"/>
<path d="M194.0 175.3Q185.0 186.7 171.3 191.3" stroke="#f27a78" stroke-opacity="0.50"/>
<path d="M194.0 175.3Q213.9 172.3 229.2 185.4" stroke="#f27a78" stroke-opacity="0.50"/>
<path d="M194.0 175.3Q214.9 200.7 247.7 200.7" stroke="#f27a78" stroke-opacity="0.50"/>
<path d="M194.0 175.3Q181.9 193.9 186.7 215.5" stroke="#f27a78" stroke-opacity="0.50"/>
<path d="M194.0 175.3Q227.5 182.3 241.6 213.5" stroke="#f27a78" stroke-opacity="0.50"/>
<path d="M194.0 175.3Q219.2 211.3 262.3 220.2" stroke="#f27a78" stroke-opacity="0.35"/>
<path d="M194.0 175.3Q220.0 223.4 274.0 231.5" stroke="#f27a78" stroke-opacity="0.35"/>
<path d="M194.0 175.3Q249.5 196.2 281.2 246.3" stroke="#f27a78" stroke-opacity="0.35"/>
<path d="M194.0 175.3Q161.4 192.6 158.6 229.4" stroke="#f27a78" stroke-opacity="0.50"/>
<path d="M194.0 175.3Q220.7 243.5 285.4 278.0" stroke="#f27a78" stroke-opacity="0.17"/>
<path d="M194.0 175.3Q215.2 194.6 225.2 221.4" stroke="#f27a78" stroke-opacity="0.25"/>
<path d="M172.7 182.3Q182.6 176.7 194.0 175.3" stroke="#f27a78" stroke-opacity="0.50"/>
<path d="M172.7 182.3Q177.0 184.1 181.5 183.0" stroke="#f27a78" stroke-opacity="0.50"/>
<path d="M172.7 182.3Q170.5 186.6 171.3 191.3" stroke="#f27a78" stroke-opacity="0.50"/>
<path d="M172.7 182.3Q195.9 173.0 220.7 176.6" stroke="#f27a78" stroke-opacity="0.50"/>
<path d="M172.7 182.3Q200.4 193.0 229.2 185.4" stroke="#f27a78" stroke-opacity="0.50"/>
<path d="M172.7 182.3Q196.7 180.1 217.4 192.3" stroke="#f27a78" stroke-opacity="0.50"/>
<path d="M172.7 182.3Q179.5 196.0 194.6 198.7" stroke="#f27a78" stroke-opacity="0.50"/>
<path d="M172.7 182.3Q180.8 191.0 182.9 202.7" stroke="#f27a78" stroke-opacity="0.50"/>
<path d="M172.7 182.3Q215.4 190.1 246.1 220.7" stroke="#f27a78" stroke-opacity="0.35"/>
<path d="M172.7 182.3Q221.3 192.2 262.3 220.2" stroke="#f27a78" stroke-opacity="0.35"/>
<path d="M172.7 182.3Q238.0 176.7 274.0 231.5" stroke="#f27a78" stroke-opacity="0.35"/>
<path d="M172.7 182.3Q213.6 237.0 281.2 246.3" stroke="#f27a78" stroke-opacity="0.35"/>
<path d="M172.7 182.3Q172.1 207.8 158.6 229.4" stroke="#f27a78" stroke-opacity="0.50"/>
<path d="M172.7 182.3Q161.2 185.9 154.3 195.8" stroke="#f27a78" stroke-opacity="0.35"/>
<path d="M172.7 182.3Q205.2 258.2 285.4 278.0" stroke="#f27a78" stroke-opacity="0.17"/>
<path d="M172.7 182.3Q202.7 155.1 242.3 146.9" stroke="#f27a78" stroke-opacity="0.17"/>
<path d="M181.5 183.0Q200.9 182.1 217.4 192.3" stroke="#f27a78" stroke-opacity="0.50"/>
<path d="M181.5 183.0Q190.6 188.7 194.6 198.7" stroke="#f27a78" stroke-opacity="0.50"/>
<path d="M181.5 183.0Q216.2 185.8 247.7 200.7" stroke="#f27a78" stroke-opacity="0.50"/>
<path d="M181.5 183.0Q192.9 214.1 225.2 221.4" stroke="#f27a78" stroke-opacity="0.50"/>
<path d="M181.5 183.0Q205.8 209.5 241.6 213.5" stroke="#f27a78" stroke-opacity="0.50"/>
<path d="M181.5 183.0Q240.8 182.3 274.0 231.5" stroke="#f27a78" stroke-opacity="0.35"/>
<path d="M181.5 183.0Q213.4 242.9 281.2 246.3" stroke="#f27a78" stroke-opacity="0.35"/>
<path d="M181.5 183.0Q176.4 209.3 158.6 229.4" stroke="#f27a78" stroke-opacity="0.50"/>
<path d="M181.5 183.0Q255.9 220.3 278.5 300.4" stroke="#f27a78" stroke-opacity="0.17"/>
<path d="M171.3 191.3Q177.4 188.4 181.5 183.0" stroke="#f27a78" stroke-opacity="0.50"/>
<path d="M171.3 191.3Q193.6 176.0 220.7 176.6" stroke="#f27a78" stroke-opacity="0.50"/>
<path d="M171.3 191.3Q185.2 188.1 194.6 198.7" stroke="#f27a78" stroke-opacity="0.50"/>
<path d="M171.3 191.3Q210.6 187.0 247.7 200.7" stroke="#f27a78" stroke-opacity="0.35"/>
<path d="M171.3 191.3Q172.1 207.8 186.7 215.5" stroke="#f27a78" stroke-opacity="0.50"/>
<path d="M171.3 191.3Q212.6 182.8 241.6 213.5" stroke="#f27a78" stroke-opacity="0.35"/>
<path d="M171.3 191.3Q216.5 186.2 246.1 220.7" stroke="#f27a78" stroke-opacity="0.35"/>
<path d="M171.3 191.3Q220.8 193.3 262.3 220.2" stroke="#f27a78" stroke-opacity="0.35"/>
<path d="M171.3 191.3Q221.2 228.9 281.2 246.3" stroke="#f27a78" stroke-opacity="0.35"/>
<path d="M171.3 191.3Q170.7 212.3 158.6 229.4" stroke="#f27a78" stroke-opacity="0.50"/>
<path d="M171.3 191.3Q164.1 198.4 154.3 195.8" stroke="#f27a78" stroke-opacity="0.35"/>
<path d="M171.3 191.3Q169.6 200.9 175.3 208.8" stroke="#f27a78" stroke-opacity="0.35"/>
<path d="M171.3 191.3Q198.8 210.9 231.0 201.0" stroke="#f27a78" stroke-opacity="0.25"/>
<path d="M171.3 191.3Q194.2 248.4 174.7 306.8" stroke="#f27a78" stroke-opacity="0.17"/>
<path d="M220.7 176.6Q223.7 182.2 229.2 185.4" stroke="#f27a78" stroke-opacity="0.50"/>
<path d="M220.7 176.6Q221.6 185.0 217.4 192.3" stroke="#f27a78" stroke-opacity="0.50"/>
<path d="M220.7 176.6Q205.1 184.6 194.6 198.7" stroke="#f27a78" stroke-opacity="0.50"/>
<path d="M220.7 176.6Q222.5 190.4 212.2 199.9" stroke="#f27a78" stroke-opacity="0.50"/>
<path d="M220.7 176.6Q238.6 183.7 247.7 200.7" stroke="#f27a78" stroke-opacity="0.50"/>
<path d="M220.7 176.6Q208.5 199.3 182.9 202.7" stroke="#f27a78" stroke-opacity="0.50"/>
<path d="M220.7 176.6Q235.7 197.7 225.2 221.4" stroke="#f27a78" stroke-opacity="0.50"/>
<path d="M220.7 176.6Q234.7 193.0 241.6 213.5" stroke="#f27a78" stroke-opacity="0.50"/>
<path d="M220.7 176.6Q229.5 209.9 262.3 220.2" stroke="#f27a78" stroke-opacity="0.50"/>
<path d="M220.7 176.6Q261.1 190.7 274.0 231.5" stroke="#f27a78" stroke-opacity="0.35"/>
<path d="M220.7 176.6Q270.7 194.3 281.2 246.3" stroke="#f27a78" stroke-opacity="0.35"/>
<path d="M220.7 176.6Q175.6 186.5 158.6 229.4" stroke="#f27a78" stroke-opacity="0.35"/>
<path d="M220.7 176.6Q242.1 212.8 235.6 254.4" stroke="#f27a78" stroke-opacity="0.17"/>
<path d="M229.2 185.4Q205.7 177.0 181.5 183.0" stroke="#f27a78" stroke-opacity="0.50"/>
<path d="M229.2 185.4Q224.6 191.0 217.4 192.3" stroke="#f27a78" stroke-opacity="0.50"/>
<path d="M229.2 185.4Q236.7 195.1 247.7 200.7" stroke="#f27a78" stroke-opacity="0.50"/>
<path d="M229.2 185.4Q210.2 205.3 182.9 202.7" stroke="#f27a78" stroke-opacity="0.50"/>
<path d="M229.2 185.4Q215.1 210.5 186.7 215.5" stroke="#f27a78" stroke-opacity="0.50"/>
<path d="M229.2 185.4Q240.4 197.3 241.6 213.5" stroke="#f27a78" stroke-opacity="0.50"/>
<path d="M229.2 185.4Q242.5 200.7 246.1 220.7" stroke="#f27a78" stroke-opacity="0.50"/>
<path d="M229.2 185.4Q241.1 207.2 262.3 220.2" stroke="#f27a78" stroke-opacity="0.50"/>
<path d="M229.2 185.4Q222.3 210.3 203.5 228.1" stroke="#f27a78" stroke-opacity="0.50"/>
<path d="M229.2 185.4Q231.6 196.0 239.5 203.5" stroke="#f27a78" stroke-opacity="0.35"/>
<path d="M229.2 185.4Q224.2 217.3 203.5 242.2" stroke="#f27a78" stroke-opacity="0.25"/>
<path d="M217.4 192.3Q194.2 198.7 171.3 191.3" stroke="#f27a78" stroke-opacity="0.50"/>
<path d="M217.4 192.3Q231.7 199.7 247.7 200.7" stroke="#f27a78" stroke-opacity="0.50"/>
<path d="M217.4 192.3Q202.4 205.0 182.9 202.7" stroke="#f27a78" stroke-opacity="0.50"/>
<path d="M217.4 192.3Q206.8 210.1 186.7 215.5" stroke="#f27a78" stroke-opacity="0.50"/>
<path d="M217.4 192.3Q218.2 207.7 225.2 221.4" stroke="#f27a78" stroke-opacity="0.50"/>
<path d="M217.4 192.3Q240.1 198.1 246.1 220.7" stroke="#f27a78" stroke-opacity="0.50"/>
<path d="M217.4 192.3Q234.0 228.8 274.0 231.5" stroke="#f27a78" stroke-opacity="0.50"/>
<path d="M217.4 192.3Q198.5 227.5 158.6 229.4" stroke="#f27a78" stroke-opacity="0.50"/>
<path d="M217.4 192.3Q235.5 229.7 227.6 270.4" stroke="#f27a78" stroke-opacity="0.17"/>
<path d="M217.4 192.3Q172.9 203.9 159.2 247.7" stroke="#f27a78" stroke-opacity="0.17"/>
<path d="M194.6 198.7Q184.9 183.3 192.1 166.6" stroke="#f27a78" stroke-opacity="0.50"/>
<path d="M194.6 198.7Q213.4 195.9 229.2 185.4" stroke="#f27a78" stroke-opacity="0.50"/>
<path d="M194.6 198.7Q203.6 196.2 212.2 199.9" stroke="#f27a78" stroke-opacity="0.50"/>
<path d="M194.6 198.7Q220.8 209.9 247.7 200.7" stroke="#f27a78" stroke-opacity="0.50"/>
<path d="M194.6 198.7Q216.9 209.9 241.6 213.5" stroke="#f27a78" stroke-opacity="0.50"/>
<path d="M194.6 198.7Q217.7 215.9 246.1 220.7" stroke="#f27a78" stroke-opacity="0.50"/>
<path d="M194.6 198.7Q226.5 215.5 262.3 220.2" stroke="#f27a78" stroke-opacity="0.35"/>
<path d="M194.6 198.7Q231.8 233.6 281.2 246.3" stroke="#f27a78" stroke-opacity="0.35"/>
<path d="M194.6 198.7Q180.0 218.0 158.6 229.4" stroke="#f27a78" stroke-opacity="0.50"/>
<path d="M194.6 198.7Q204.8 211.7 203.5 228.1" stroke="#f27a78" stroke-opacity="0.50"/>
<path d="M194.6 198.7Q198.8 198.7 201.4 202.0" stroke="#f27a78" stroke-opacity="0.35"/>
<path d="M194.6 198.7Q176.6 245.4 130.5 265.0" stroke="#f27a78" stroke-opacity="0.17"/>
<path d="M212.2 199.9Q196.3 192.6 194.0 175.3" stroke="#f27a78" stroke-opacity="0.50"/>
<path d="M212.2 199.9Q196.8 181.3 172.7 182.3" stroke="#f27a78" stroke-opacity="0.50"/>
<path d="M212.2 199.9Q194.7 195.3 181.5 183.0" stroke="#f27a78" stroke-opacity="0.50"/>
<path d="M212.2 199.9Q213.2 195.0 217.4 192.3" stroke="#f27a78" stroke-opacity="0.50"/>
<path d="M212.2 199.9Q230.0 197.4 247.7 200.7" stroke="#f27a78" stroke-opacity="0.50"/>
<path d="M212.2 199.9Q196.8 193.5 182.9 202.7" stroke="#f27a78" stroke-opacity="0.50"/>
<path d="M212.2 199.9Q222.9 208.1 225.2 221.4" stroke="#f27a78" stroke-opacity="0.50"/>
<path d="M212.2 199.9Q224.8 211.2 241.6 213.5" stroke="#f27a78" stroke-opacity="0.50"/>
<path d="M212.2 199.9Q227.1 213.7 246.1 220.7" stroke="#f27a78" stroke-opacity="0.50"/>
<path d="M212.2 199.9Q231.6 224.1 262.3 220.2" stroke="#f27a78" stroke-opacity="0.50"/>
<path d="M212.2 199.9Q241.6 230.6 281.2 246.3" stroke="#f27a78" stroke-opacity="0.35"/>
<path d="M212.2 199.9Q206.5 199.5 201.4 202.0" stroke="#f27a78" stroke-opacity="0.35"/>
<path d="M212.2 199.9Q221.5 202.1 231.0 201.0" stroke="#f27a78" stroke-opacity="0.35"/>
<path d="M212.2 199.9Q191.5 237.3 203.3 278.4" stroke="#f27a78" stroke-opacity="0.17"/>
<path d="M247.7 200.7Q207.3 203.4 172.7 182.3" stroke="#f27a78" stroke-opacity="0.35"/>
<path d="M247.7 200.7Q230.4 204.5 225.2 221.4" stroke="#f27a78" stroke-opacity="0.50"/>
<path d="M247.7 200.7Q246.0 207.8 241.6 213.5" stroke="#f27a78" stroke-opacity="0.50"/>
<path d="M247.7 200.7Q252.1 211.1 246.1 220.7" stroke="#f27a78" stroke-opacity="0.50"/>
<path d="M247.7 200.7Q253.1 222.7 274.0 231.5" stroke="#f27a78" stroke-opacity="0.50"/>
<path d="M247.7 200.7Q255.0 230.4 281.2 246.3" stroke="#f27a78" stroke-opacity="0.50"/>
<path d="M247.7 200.7Q207.3 227.9 158.6 229.4" stroke="#f27a78" stroke-opacity="0.35"/>
<path d="M247.7 200.7Q239.4 205.7 231.0 201.0" stroke="#f27a78" stroke-opacity="0.35"/>
<path d="M247.7 200.7Q237.2 206.0 232.4 216.8" stroke="#f27a78" stroke-opacity="0.35"/>
<path d="M247.7 200.7Q253.3 253.6 278.5 300.4" stroke="#f27a78" stroke-opacity="0.17"/>
<path d="M247.7 200.7Q221.6 237.9 184.7 264.5" stroke="#f27a78" stroke-opacity="0.17"/>
<path d="M182.9 202.7Q179.7 193.0 181.5 183.0" stroke="#f27a78" stroke-opacity="0.50"/>
<path d="M182.9 202.7Q175.8 198.4 171.3 191.3" stroke="#f27a78" stroke-opacity="0.50"/>
<path d="M182.9 202.7Q189.3 202.3 194.6 198.7" stroke="#f27a78" stroke-opacity="0.50"/>
<path d="M182.9 202.7Q205.6 208.5 225.2 221.4" stroke="#f27a78" stroke-opacity="0.50"/>
<path d="M182.9 202.7Q225.0 200.5 262.3 220.2" stroke="#f27a78" stroke-opacity="0.35"/>
<path d="M182.9 202.7Q222.8 234.9 274.0 231.5" stroke="#f27a78" stroke-opacity="0.35"/>
<path d="M182.9 202.7Q168.0 213.6 158.6 229.4" stroke="#f27a78" stroke-opacity="0.50"/>
<path d="M182.9 202.7Q199.2 210.5 203.5 228.1" stroke="#f27a78" stroke-opacity="0.50"/>
<path d="M182.9 202.7Q180.0 206.8 175.3 208.8" stroke="#f27a78" stroke-opacity="0.35"/>
<path d="M182.9 202.7Q192.3 205.8 201.4 202.0" stroke="#f27a78" stroke-opacity="0.35"/>
<path d="M182.9 202.7Q165.0 193.0 144.8 191.2" stroke="#f27a78" stroke-opacity="0.25"/>
<path d="M182.9 202.7Q234.7 226.4 261.4 276.6" stroke="#f27a78" stroke-opacity="0.17"/>
<path d="M186.7 215.5Q179.7 190.0 192.1 166.6" stroke="#f27a78" stroke-opacity="0.50"/>
<path d="M186.7 215.5Q170.8 202.7 172.7 182.3" stroke="#f27a78" stroke-opacity="0.50"/>
<path d="M186.7 215.5Q176.7 200.4 181.5 183.0" stroke="#f27a78" stroke-opacity="0.50"/>
<path d="M186.7 215.5Q203.3 213.9 212.2 199.9" stroke="#f27a78" stroke-opacity="0.50"/>
<path d="M186.7 215.5Q212.9 190.5 247.7 200.7" stroke="#f27a78" stroke-opacity="0.50"/>
<path d="M186.7 215.5Q181.1 210.2 182.9 202.7" stroke="#f27a78" stroke-opacity="0.50"/>
<path d="M186.7 215.5Q204.6 227.4 225.2 221.4" stroke="#f27a78" stroke-opacity="0.50"/>
<path d="M186.7 215.5Q213.8 205.3 241.6 213.5" stroke="#f27a78" stroke-opacity="0.50"/>
<path d="M186.7 215.5Q217.7 203.2 246.1 220.7" stroke="#f27a78" stroke-opacity="0.50"/>
<path d="M186.7 215.5Q223.7 230.6 262.3 220.2" stroke="#f27a78" stroke-opacity="0.35"/>
<path d="M186.7 215.5Q226.6 244.2 274.0 231.5" stroke="#f27a78" stroke-opacity="0.35"/>
<path d="M186.7 215.5Q226.0 255.4 281.2 246.3" stroke="#f27a78" stroke-opacity="0.35"/>
<path d="M186.7 215.5Q174.8 226.7 158.6 229.4" stroke="#f27a78" stroke-opacity="0.50"/>
<path d="M186.7 215.5Q198.8 216.9 203.5 228.1" stroke="#f27a78" stroke-opacity="0.50"/>
<path d="M186.7 215.5Q181.3 219.4 178.6 225.5" stroke="#f27a78" stroke-opacity="0.35"/>
<path d="M186.7 215.5Q182.5 209.6 175.3 208.8" stroke="#f27a78" stroke-opacity="0.35"/>
<path d="M186.7 215.5Q178.1 236.0 159.2 247.7" stroke="#f27a78" stroke-opacity="0.25"/>
<path d="M186.7 215.5Q236.8 232.6 277.0 267.0" stroke="#f27a78" stroke-opacity="0.17"/>
<path d="M225.2 221.4Q215.5 189.9 192.1 166.6" stroke="#f27a78" stroke-opacity="0.50"/>
<path d="M225.2 221.4Q193.9 208.7 172.7 182.3" stroke="#f27a78" stroke-opacity="0.50"/>
<path d="M225.2 221.4Q216.6 201.1 194.6 198.7" stroke="#f27a78" stroke-opacity="0.50"/>
<path d="M225.2 221.4Q235.8 225.6 246.1 220.7" stroke="#f27a78" stroke-opacity="0.50"/>
<path d="M225.2 221.4Q192.6 231.2 158.6 229.4" stroke="#f27a78" stroke-opacity="0.50"/>
<path d="M225.2 221.4Q212.5 218.6 203.5 228.1" stroke="#f27a78" stroke-opacity="0.50"/>
<path d="M225.2 221.4Q232.6 212.5 231.0 201.0" stroke="#f27a78" stroke-opacity="0.35"/>
<path d="M225.2 221.4Q226.7 246.4 209.5 264.5" stroke="#f27a78" stroke-opacity="0.25"/>
<path d="M225.2 221.4Q232.1 241.5 246.6 257.1" stroke="#f27a78" stroke-opacity="0.25"/>
<path d="M241.6 213.5Q225.8 207.1 217.4 192.3" stroke="#f27a78" stroke-opacity="0.50"/>
<path d="M241.6 213.5Q210.7 216.5 182.9 202.7" stroke="#f27a78" stroke-opacity="0.50"/>
<path d="M241.6 213.5Q250.9 220.1 262.3 220.2" stroke="#f27a78" stroke-opacity="0.50"/>
<path d="M241.6 213.5Q259.7 219.0 274.0 231.5" stroke="#f27a78" stroke-opacity="0.50"/>
<path d="M241.6 213.5Q221.1 217.0 203.5 228.1" stroke="#f27a78" stroke-opacity="0.50"/>
<path d="M241.6 213.5Q234.1 209.1 231.0 201.0" stroke="#f27a78" stroke-opacity="0.35"/>
<path d="M241.6 213.5Q235.1 262.4 190.3 283.2" stroke="#f27a78" stroke-opacity="0.17"/>
<path d="M241.6 213.5Q226.6 179.8 192.1 166.6" stroke="#f27a78" stroke-opacity="0.25"/>
<path d="M246.1 220.7Q226.1 191.0 194.0 175.3" stroke="#f27a78" stroke-opacity="0.50"/>
<path d="M246.1 220.7Q204.6 217.5 181.5 183.0" stroke="#f27a78" stroke-opacity="0.35"/>
<path d="M246.1 220.7Q245.1 191.9 220.7 176.6" stroke="#f27a78" stroke-opacity="0.50"/>
<path d="M246.1 220.7Q254.1 216.8 262.3 220.2" stroke="#f27a78" stroke-opacity="0.50"/>
<path d="M246.1 220.7Q262.2 220.5 274.0 231.5" stroke="#f27a78" stroke-opacity="0.50"/>
<path d="M246.1 220.7Q259.0 239.9 281.2 246.3" stroke="#f27a78" stroke-opacity="0.50"/>
<path d="M246.1 220.7Q200.5 206.3 158.6 229.4" stroke="#f27a78" stroke-opacity="0.35"/>
<path d="M246.1 220.7Q222.9 213.3 203.5 228.1" stroke="#f27a78" stroke-opacity="0.50"/>
<path d="M246.1 220.7Q230.9 190.7 232.7 157.1" stroke="#f27a78" stroke-opacity="0.25"/>
<path d="M246.1 220.7Q197.5 242.8 144.1 240.1" stroke="#f27a78" stroke-opacity="0.17"/>
<path d="M262.3 220.2Q248.0 193.1 217.4 192.3" stroke="#f27a78" stroke-opacity="0.50"/>
<path d="M262.3 220.2Q252.3 210.0 239.5 203.5" stroke="#f27a78" stroke-opacity="0.35"/>
<path d="M262.3 220.2Q252.5 240.3 252.6 262.6" stroke="#f27a78" stroke-opacity="0.25"/>
<path d="M274.0 231.5Q238.3 225.0 212.2 199.9" stroke="#f27a78" stroke-opacity="0.50"/>
<path d="M274.0 231.5Q290.1 244.7 311.0 244.0" stroke="#f27a78" stroke-opacity="0.50"/>
<path d="M274.0 231.5Q265.8 250.1 277.0 267.0" stroke="#f27a78" stroke-opacity="0.35"/>
<path d="M274.0 231.5Q216.8 226.3 171.3 191.3" stroke="#f27a78" stroke-opacity="0.17"/>
<path d="M281.2 246.3Q277.9 256.4 277.0 267.0" stroke="#f27a78" stroke-opacity="0.35"/>
<path d="M281.2 246.3Q277.8 260.5 280.5 274.8" stroke="#f27a78" stroke-opacity="0.35"/>
<path d="M281.2 246.3Q277.7 262.9 285.4 278.0" stroke="#f27a78" stroke-opacity="0.35"/>
<path d="M281.2 246.3Q273.4 268.2 274.4 291.4" stroke="#f27a78" stroke-opacity="0.25"/>
<path d="M281.2 246.3Q220.0 227.7 159.2 247.7" stroke="#f27a78" stroke-opacity="0.17"/>
<path d="M158.6 229.4Q185.3 193.7 229.2 185.4" stroke="#f27a78" stroke-opacity="0.35"/>
<path d="M158.6 229.4Q180.3 205.4 212.2 199.9" stroke="#f27a78" stroke-opacity="0.50"/>
<path d="M158.6 229.4Q201.9 230.7 241.6 213.5" stroke="#f27a78" stroke-opacity="0.35"/>
<path d="M158.6 229.4Q208.5 202.4 262.3 220.2" stroke="#f27a78" stroke-opacity="0.35"/>
<path d="M158.6 229.4Q215.5 269.8 281.2 246.3" stroke="#f27a78" stroke-opacity="0.35"/>
<path d="M158.6 229.4Q180.7 217.9 203.5 228.1" stroke="#f27a78" stroke-opacity="0.50"/>
<path d="M158.6 229.4Q154.2 230.5 151.0 233.7" stroke="#f27a78" stroke-opacity="0.35"/>
<path d="M158.6 229.4Q155.4 233.1 150.5 234.1" stroke="#f27a78" stroke-opacity="0.35"/>
<path d="M158.6 229.4Q162.1 225.9 166.6 223.7" stroke="#f27a78" stroke-opacity="0.35"/>
<path d="M158.6 229.4Q153.8 225.9 152.5 220.1" stroke="#f27a78" stroke-opacity="0.35"/>
<path d="M158.6 229.4Q149.9 227.4 144.3 220.5" stroke="#f27a78" stroke-opacity="0.35"/>
<path d="M158.6 229.4Q150.4 246.8 160.5 263.1" stroke="#f27a78" stroke-opacity="0.25"/>
<path d="M158.6 229.4Q193.4 233.6 218.9 257.6" stroke="#f27a78" stroke-opacity="0.25"/>
<path d="M203.5 228.1Q211.0 199.5 194.0 175.3" stroke="#f27a78" stroke-opacity="0.50"/>
<path d="M203.5 228.1Q199.0 197.8 172.7 182.3" stroke="#f27a78" stroke-opacity="0.50"/>
<path d="M203.5 228.1Q199.6 202.1 181.5 183.0" stroke="#f27a78" stroke-opacity="0.50"/>
<path d="M203.5 228.1Q195.6 202.5 171.3 191.3" stroke="#f27a78" stroke-opacity="0.50"/>
<path d="M203.5 228.1Q199.1 198.0 220.7 176.6" stroke="#f27a78" stroke-opacity="0.50"/>
<path d="M203.5 228.1Q216.3 212.5 217.4 192.3" stroke="#f27a78" stroke-opacity="0.50"/>
<path d="M203.5 228.1Q211.2 215.0 212.2 199.9" stroke="#f27a78" stroke-opacity="0.50"/>
<path d="M203.5 228.1Q234.9 239.2 262.3 220.2" stroke="#f27a78" stroke-opacity="0.50"/>
<path d="M203.5 228.1Q238.0 244.4 274.0 231.5" stroke="#f27a78" stroke-opacity="0.35"/>
<path d="M203.5 228.1Q244.2 229.5 281.2 246.3" stroke="#f27a78" stroke-opacity="0.35"/>
<path d="M203.5 228.1Q201.4 235.1 203.5 242.2" stroke="#f27a78" stroke-opacity="0.35"/>
<path d="M203.5 228.1Q190.3 234.0 178.6 225.5" stroke="#f27a78" stroke-opacity="0.35"/>
<path d="M203.5 228.1Q176.9 276.1 122.1 276.2" stroke="#f27a78" stroke-opacity="0.17"/>
<path d="M137.6 180.4Q171.3 185.7 201.4 202.0" stroke="#40d0e0" stroke-opacity="0.50"/>
<path d="M137.6 180.4Q150.6 202.3 175.3 208.8" stroke="#40d0e0" stroke-opacity="0.50"/>
<path d="M137.6 180.4Q145.8 206.3 166.6 223.7" stroke="#40d0e0" stroke-opacity="0.50"/>
<path d="M137.6 180.4Q149.1 211.1 178.6 225.5" stroke="#40d0e0" stroke-opacity="0.50"/>
<path d="M137.6 180.4Q143.0 191.3 154.3 195.8" stroke="#40d0e0" stroke-opacity="0.35"/>
<path d="M137.6 180.4Q138.8 193.2 136.7 205.9" stroke="#40d0e0" stroke-opacity="0.35"/>
<path d="M137.6 180.4Q143.9 194.2 154.5 205.0" stroke="#40d0e0" stroke-opacity="0.35"/>
<path d="M137.6 180.4Q183.4 186.6 222.6 162.2" stroke="#40d0e0" stroke-opacity="0.17"/>
<path d="M142.9 181.6Q140.0 182.2 137.6 180.4" stroke="#40d0e0" stroke-opacity="0.50"/>
<path d="M142.9 181.6Q165.2 199.9 178.6 225.5" stroke="#40d0e0" stroke-opacity="0.50"/>
<path d="M142.9 181.6Q145.9 190.9 154.3 195.8" stroke="#40d0e0" stroke-opacity="0.35"/>
<path d="M142.9 181.6Q146.4 195.4 136.7 205.9" stroke="#40d0e0" stroke-opacity="0.35"/>
<path d="M142.9 181.6Q144.3 195.5 154.5 205.0" stroke="#40d0e0" stroke-opacity="0.35"/>
<path d="M142.9 181.6Q149.0 245.0 203.3 278.4" stroke="#40d0e0" stroke-opacity="0.17"/>
<path d="M142.9 181.6Q141.1 222.8 171.4 250.8" stroke="#40d0e0" stroke-opacity="0.17"/>
<path d="M144.8 191.2Q142.7 186.6 142.9 181.6" stroke="#40d0e0" stroke-opacity="0.50"/>
<path d="M144.8 191.2Q135.2 203.4 134.5 218.9" stroke="#40d0e0" stroke-opacity="0.50"/>
<path d="M144.8 191.2Q175.9 181.8 201.4 202.0" stroke="#40d0e0" stroke-opacity="0.50"/>
<path d="M144.8 191.2Q150.0 192.5 154.3 195.8" stroke="#40d0e0" stroke-opacity="0.35"/>
<path d="M144.8 191.2Q137.3 196.7 136.7 205.9" stroke="#40d0e0" stroke-opacity="0.35"/>
<path d="M144.8 191.2Q146.6 200.2 154.5 205.0" stroke="#40d0e0" stroke-opacity="0.35"/>
<path d="M144.8 191.2Q181.2 278.5 273.5 298.9" stroke="#40d0e0" stroke-opacity="0.17"/>
<path d="M144.8 191.2Q168.2 212.2 171.6 243.4" stroke="#40d0e0" stroke-opacity="0.25"/>
<path d="M134.5 218.9Q138.7 199.9 137.6 180.4" stroke="#40d0e0" stroke-opacity="0.50"/>
<path d="M134.5 218.9Q164.3 195.8 201.4 202.0" stroke="#40d0e0" stroke-opacity="0.50"/>
<path d="M134.5 218.9Q151.3 216.2 166.6 223.7" stroke="#40d0e0" stroke-opacity="0.50"/>
<path d="M134.5 218.9Q139.8 217.4 144.3 220.5" stroke="#40d0e0" stroke-opacity="0.35"/>
<path d="M134.5 218.9Q128.6 217.1 126.6 211.3" stroke="#40d0e0" stroke-opacity="0.35"/>
<path d="M134.5 218.9Q138.7 212.9 136.7 205.9" stroke="#40d0e0" stroke-opacity="0.35"/>
<path d="M134.5 218.9Q137.2 211.2 145.2 209.6" stroke="#40d0e0" stroke-opacity="0.35"/>
<path d="M134.5 218.9Q143.2 224.3 152.5 220.1" stroke="#40d0e0" stroke-opacity="0.35"/>
<path d="M134.5 218.9Q220.9 223.4 274.4 291.4" stroke="#40d0e0" stroke-opacity="0.17"/>
<path d="M134.5 218.9Q147.8 221.3 158.6 229.4" stroke="#40d0e0" stroke-opacity="0.25"/>
<path d="M201.4 202.0Q186.5 198.3 175.3 208.8" stroke="#40d0e0" stroke-opacity="0.50"/>
<path d="M201.4 202.0Q194.8 218.5 178.6 225.5" stroke="#40d0e0" stroke-opacity="0.50"/>
<path d="M201.4 202.0Q169.1 207.2 150.5 234.1" stroke="#40d0e0" stroke-opacity="0.50"/>
<path d="M201.4 202.0Q208.3 195.3 217.4 192.3" stroke="#40d0e0" stroke-opacity="0.35"/>
<path d="M201.4 202.0Q211.5 201.8 221.0 205.0" stroke="#40d0e0" stroke-opacity="0.35"/>
<path d="M201.4 202.0Q240.2 232.2 261.4 276.6" stroke="#40d0e0" stroke-opacity="0.17"/>
<path d="M201.4 202.0Q236.2 185.1 242.3 146.9" stroke="#40d0e0" stroke-opacity="0.25"/>
<path d="M175.3 208.8Q166.1 186.9 142.9 181.6" stroke="#40d0e0" stroke-opacity="0.50"/>
<path d="M175.3 208.8Q168.5 227.0 150.5 234.1" stroke="#40d0e0" stroke-opacity="0.50"/>
<path d="M175.3 208.8Q213.5 195.6 242.5 167.3" stroke="#40d0e0" stroke-opacity="0.17"/>
<path d="M166.6 223.7Q150.6 210.9 144.8 191.2" stroke="#40d0e0" stroke-opacity="0.50"/>
<path d="M166.6 223.7Q159.5 230.3 150.5 234.1" stroke="#40d0e0" stroke-opacity="0.50"/>
<path d="M166.6 223.7Q158.6 225.7 152.5 220.1" stroke="#40d0e0" stroke-opacity="0.35"/>
<path d="M166.6 223.7Q160.4 231.1 151.0 233.7" stroke="#40d0e0" stroke-opacity="0.35"/>
<path d="M166.6 223.7Q146.0 233.3 138.9 254.9" stroke="#40d0e0" stroke-opacity="0.25"/>
<path d="M166.6 223.7Q164.3 248.5 153.4 270.8" stroke="#40d0e0" stroke-opacity="0.25"/>
<path d="M178.6 225.5Q168.8 201.3 144.8 191.2" stroke="#40d0e0" stroke-opacity="0.50"/>
<path d="M178.6 225.5Q155.4 230.0 134.5 218.9" stroke="#40d0e0" stroke-opacity="0.50"/>
<path d="M178.6 225.5Q172.4 226.2 166.6 223.7" stroke="#40d0e0" stroke-opacity="0.50"/>
<path d="M178.6 225.5Q177.2 235.3 171.6 243.4" stroke="#40d0e0" stroke-opacity="0.35"/>
<path d="M178.6 225.5Q188.8 266.7 174.7 306.8" stroke="#40d0e0" stroke-opacity="0.17"/>
<path d="M178.6 225.5Q188.3 249.5 209.5 264.5" stroke="#40d0e0" stroke-opacity="0.25"/>
<path d="M150.5 234.1Q159.7 203.5 137.6 180.4" stroke="#40d0e0" stroke-opacity="0.50"/>
<path d="M150.5 234.1Q160.3 211.0 144.8 191.2" stroke="#40d0e0" stroke-opacity="0.50"/>
<path d="M150.5 234.1Q150.7 233.8 151.0 233.7" stroke="#40d0e0" stroke-opacity="0.35"/>
<path d="M150.5 234.1Q145.9 235.6 144.1 240.1" stroke="#40d0e0" stroke-opacity="0.35"/>
<path d="M150.5 234.1Q151.8 239.9 149.3 245.3" stroke="#40d0e0" stroke-opacity="0.35"/>
<path d="M150.5 234.1Q155.3 227.6 152.5 220.1" stroke="#40d0e0" stroke-opacity="0.35"/>
<path d="M150.5 234.1Q166.0 210.1 172.7 182.3" stroke="#40d0e0" stroke-opacity="0.25"/>
<path d="M150.5 234.1Q219.6 248.6 277.9 288.4" stroke="#40d0e0" stroke-opacity="0.17"/>
<path d="M154.3 195.8Q142.9 208.0 126.6 211.3" stroke="#58b8e4" stroke-opacity="0.50"/>
<path d="M154.3 195.8Q150.9 203.4 145.2 209.6" stroke="#58b8e4" stroke-opacity="0.50"/>
<path d="M154.3 195.8Q143.5 219.7 149.3 245.3" stroke="#58b8e4" stroke-opacity="0.50"/>
<path d="M154.3 195.8Q151.3 222.3 159.2 247.7" stroke="#58b8e4" stroke-opacity="0.50"/>
<path d="M154.3 195.8Q146.8 214.2 151.0 233.7" stroke="#58b8e4" stroke-opacity="0.50"/>
<path d="M154.3 195.8Q175.7 233.6 153.4 270.8" stroke="#58b8e4" stroke-opacity="0.35"/>
<path d="M154.3 195.8Q151.5 238.1 184.7 264.5" stroke="#58b8e4" stroke-opacity="0.35"/>
<path d="M154.3 195.8Q152.7 241.5 183.3 275.5" stroke="#58b8e4" stroke-opacity="0.35"/>
<path d="M154.3 195.8Q173.2 225.0 203.5 242.2" stroke="#58b8e4" stroke-opacity="0.25"/>
<path d="M136.7 205.9Q142.4 215.5 152.5 220.1" stroke="#58b8e4" stroke-opacity="0.50"/>
<path d="M136.7 205.9Q139.5 226.7 149.3 245.3" stroke="#58b8e4" stroke-opacity="0.50"/>
<path d="M136.7 205.9Q163.1 233.1 169.5 270.4" stroke="#58b8e4" stroke-opacity="0.35"/>
<path d="M136.7 205.9Q168.5 228.8 184.7 264.5" stroke="#58b8e4" stroke-opacity="0.35"/>
<path d="M136.7 205.9Q167.0 236.0 183.3 275.5" stroke="#58b8e4" stroke-opacity="0.35"/>
<path d="M136.7 205.9Q138.0 222.8 150.5 234.1" stroke="#58b8e4" stroke-opacity="0.25"/>
<path d="M126.6 211.3Q130.6 206.6 136.7 205.9" stroke="#58b8e4" stroke-opacity="0.50"/>
<path d="M126.6 211.3Q136.3 215.4 145.2 209.6" stroke="#58b8e4" stroke-opacity="0.50"/>
<path d="M126.6 211.3Q139.8 204.9 154.5 205.0" stroke="#58b8e4" stroke-opacity="0.50"/>
<path d="M126.6 211.3Q138.4 219.0 152.5 220.1" stroke="#58b8e4" stroke-opacity="0.50"/>
<path d="M126.6 211.3Q137.0 234.8 159.2 247.7" stroke="#58b8e4" stroke-opacity="0.50"/>
<path d="M126.6 211.3Q142.1 219.0 151.0 233.7" stroke="#58b8e4" stroke-opacity="0.50"/>
<path d="M126.6 211.3Q142.7 254.2 183.3 275.5" stroke="#58b8e4" stroke-opacity="0.35"/>
<path d="M126.6 211.3Q130.3 196.4 144.8 191.2" stroke="#58b8e4" stroke-opacity="0.35"/>
<path d="M126.6 211.3Q188.9 197.1 232.5 243.8" stroke="#58b8e4" stroke-opacity="0.17"/>
<path d="M126.6 211.3Q183.6 236.7 241.6 213.5" stroke="#58b8e4" stroke-opacity="0.17"/>
<path d="M145.2 209.6Q150.8 209.2 154.5 205.0" stroke="#58b8e4" stroke-opacity="0.50"/>
<path d="M145.2 209.6Q146.8 216.3 152.5 220.1" stroke="#58b8e4" stroke-opacity="0.50"/>
<path d="M145.2 209.6Q144.4 245.2 169.5 270.4" stroke="#58b8e4" stroke-opacity="0.50"/>
<path d="M145.2 209.6Q155.9 239.3 153.4 270.8" stroke="#58b8e4" stroke-opacity="0.50"/>
<path d="M145.2 209.6Q177.5 228.0 184.7 264.5" stroke="#58b8e4" stroke-opacity="0.50"/>
<path d="M145.2 209.6Q155.8 216.8 158.6 229.4" stroke="#58b8e4" stroke-opacity="0.25"/>
<path d="M145.2 209.6Q182.3 234.9 225.2 221.4" stroke="#58b8e4" stroke-opacity="0.17"/>
<path d="M154.5 205.0Q148.4 224.7 149.3 245.3" stroke="#58b8e4" stroke-opacity="0.50"/>
<path d="M154.5 205.0Q157.0 219.9 151.0 233.7" stroke="#58b8e4" stroke-opacity="0.50"/>
<path d="M154.5 205.0Q146.5 241.2 169.5 270.4" stroke="#58b8e4" stroke-opacity="0.50"/>
<path d="M154.5 205.0Q170.4 238.2 153.4 270.8" stroke="#58b8e4" stroke-opacity="0.50"/>
<path d="M154.5 205.0Q222.3 235.8 261.8 298.9" stroke="#58b8e4" stroke-opacity="0.17"/>
<path d="M154.5 205.0Q196.9 196.2 239.5 203.5" stroke="#58b8e4" stroke-opacity="0.17"/>
<path d="M144.3 220.5Q155.7 210.7 154.3 195.8" stroke="#58b8e4" stroke-opacity="0.50"/>
<path d="M144.3 220.5Q142.3 212.3 136.7 205.9" stroke="#58b8e4" stroke-opacity="0.50"/>
<path d="M144.3 220.5Q148.4 221.1 152.5 220.1" stroke="#58b8e4" stroke-opacity="0.50"/>
<path d="M144.3 220.5Q144.1 233.4 149.3 245.3" stroke="#58b8e4" stroke-opacity="0.50"/>
<path d="M144.3 220.5Q141.7 246.9 153.4 270.8" stroke="#58b8e4" stroke-opacity="0.50"/>
<path d="M144.3 220.5Q143.8 228.9 150.5 234.1" stroke="#58b8e4" stroke-opacity="0.35"/>
<path d="M144.3 220.5Q143.7 249.6 132.0 276.2" stroke="#58b8e4" stroke-opacity="0.25"/>
<path d="M144.3 220.5Q163.2 195.2 194.6 198.7" stroke="#58b8e4" stroke-opacity="0.25"/>
<path d="M152.5 220.1Q153.1 233.0 149.3 245.3" stroke="#58b8e4" stroke-opacity="0.50"/>
<path d="M152.5 220.1Q148.0 226.5 151.0 233.7" stroke="#58b8e4" stroke-opacity="0.50"/>
<path d="M152.5 220.1Q172.3 241.4 169.5 270.4" stroke="#58b8e4" stroke-opacity="0.50"/>
<path d="M152.5 220.1Q146.1 245.6 153.4 270.8" stroke="#58b8e4" stroke-opacity="0.50"/>
<path d="M152.5 220.1Q159.2 252.6 183.3 275.5" stroke="#58b8e4" stroke-opacity="0.50"/>
<path d="M152.5 220.1Q158.1 198.8 172.7 182.3" stroke="#58b8e4" stroke-opacity="0.25"/>
<path d="M149.3 245.3Q133.2 231.5 126.6 211.3" stroke="#58b8e4" stroke-opacity="0.50"/>
<path d="M149.3 245.3Q138.8 228.4 145.2 209.6" stroke="#58b8e4" stroke-opacity="0.50"/>
<path d="M149.3 245.3Q154.7 244.8 159.2 247.7" stroke="#58b8e4" stroke-opacity="0.50"/>
<path d="M149.3 245.3Q145.8 243.6 144.1 240.1" stroke="#58b8e4" stroke-opacity="0.35"/>
<path d="M149.3 245.3Q143.0 248.9 138.9 254.9" stroke="#58b8e4" stroke-opacity="0.35"/>
<path d="M149.3 245.3Q149.4 213.9 171.3 191.3" stroke="#58b8e4" stroke-opacity="0.25"/>
<path d="M159.2 247.7Q139.4 231.4 136.7 205.9" stroke="#58b8e4" stroke-opacity="0.50"/>
<path d="M159.2 247.7Q144.4 231.5 145.2 209.6" stroke="#58b8e4" stroke-opacity="0.50"/>
<path d="M159.2 247.7Q169.0 225.0 154.5 205.0" stroke="#58b8e4" stroke-opacity="0.50"/>
<path d="M159.2 247.7Q159.5 229.8 144.3 220.5" stroke="#58b8e4" stroke-opacity="0.50"/>
<path d="M159.2 247.7Q151.4 242.9 151.0 233.7" stroke="#58b8e4" stroke-opacity="0.50"/>
<path d="M159.2 247.7Q158.0 261.9 169.5 270.4" stroke="#58b8e4" stroke-opacity="0.50"/>
<path d="M159.2 247.7Q176.9 248.6 184.7 264.5" stroke="#58b8e4" stroke-opacity="0.50"/>
<path d="M159.2 247.7Q173.7 259.5 183.3 275.5" stroke="#58b8e4" stroke-opacity="0.50"/>
<path d="M159.2 247.7Q164.9 250.8 171.4 250.8" stroke="#58b8e4" stroke-opacity="0.35"/>
<path d="M159.2 247.7Q166.5 248.6 171.6 243.4" stroke="#58b8e4" stroke-opacity="0.35"/>
<path d="M159.2 247.7Q162.5 255.2 160.5 263.1" stroke="#58b8e4" stroke-opacity="0.35"/>
<path d="M159.2 247.7Q158.9 238.3 150.5 234.1" stroke="#58b8e4" stroke-opacity="0.35"/>
<path d="M159.2 247.7Q156.3 238.6 158.6 229.4" stroke="#58b8e4" stroke-opacity="0.25"/>
<path d="M151.0 233.7Q139.5 222.0 136.7 205.9" stroke="#58b8e4" stroke-opacity="0.50"/>
<path d="M151.0 233.7Q150.0 225.9 144.3 220.5" stroke="#58b8e4" stroke-opacity="0.50"/>
<path d="M151.0 233.7Q143.6 252.8 153.4 270.8" stroke="#58b8e4" stroke-opacity="0.50"/>
<path d="M151.0 233.7Q161.9 255.6 184.7 264.5" stroke="#58b8e4" stroke-opacity="0.50"/>
<path d="M151.0 233.7Q174.4 249.0 183.3 275.5" stroke="#58b8e4" stroke-opacity="0.50"/>
<path d="M151.0 233.7Q148.8 238.2 144.1 240.1" stroke="#58b8e4" stroke-opacity="0.35"/>
<path d="M151.0 233.7Q187.0 220.9 225.2 221.4" stroke="#58b8e4" stroke-opacity="0.17"/>
<path d="M151.0 233.7Q201.1 268.2 261.4 276.6" stroke="#58b8e4" stroke-opacity="0.17"/>
<path d="M169.5 270.4Q149.5 257.5 151.0 233.7" stroke="#58b8e4" stroke-opacity="0.50"/>
<path d="M169.5 270.4Q177.4 270.2 183.3 275.5" stroke="#58b8e4" stroke-opacity="0.50"/>
<path d="M169.5 270.4Q162.9 269.4 160.5 263.1" stroke="#58b8e4" stroke-opacity="0.35"/>
<path d="M169.5 270.4Q167.3 260.3 171.4 250.8" stroke="#58b8e4" stroke-opacity="0.35"/>
<path d="M169.5 270.4Q169.4 231.6 154.3 195.8" stroke="#58b8e4" stroke-opacity="0.17"/>
<path d="M153.4 270.8Q152.2 236.5 136.7 205.9" stroke="#58b8e4" stroke-opacity="0.50"/>
<path d="M153.4 270.8Q153.5 235.0 126.6 211.3" stroke="#58b8e4" stroke-opacity="0.50"/>
<path d="M153.4 270.8Q145.4 259.0 149.3 245.3" stroke="#58b8e4" stroke-opacity="0.50"/>
<path d="M153.4 270.8Q161.4 267.5 169.5 270.4" stroke="#58b8e4" stroke-opacity="0.50"/>
<path d="M153.4 270.8Q169.7 271.1 184.7 264.5" stroke="#58b8e4" stroke-opacity="0.50"/>
<path d="M153.4 270.8Q158.7 268.6 160.5 263.1" stroke="#58b8e4" stroke-opacity="0.35"/>
<path d="M153.4 270.8Q141.8 266.8 138.9 254.9" stroke="#58b8e4" stroke-opacity="0.35"/>
<path d="M153.4 270.8Q143.8 278.0 132.0 276.2" stroke="#58b8e4" stroke-opacity="0.35"/>
<path d="M153.4 270.8Q141.1 271.4 130.5 265.0" stroke="#58b8e4" stroke-opacity="0.35"/>
<path d="M153.4 270.8Q183.5 251.1 218.9 257.6" stroke="#58b8e4" stroke-opacity="0.25"/>
<path d="M153.4 270.8Q141.7 257.6 144.1 240.1" stroke="#58b8e4" stroke-opacity="0.25"/>
<path d="M184.7 264.5Q144.4 250.2 126.6 211.3" stroke="#58b8e4" stroke-opacity="0.35"/>
<path d="M184.7 264.5Q176.1 231.8 144.3 220.5" stroke="#58b8e4" stroke-opacity="0.50"/>
<path d="M184.7 264.5Q180.3 233.8 152.5 220.1" stroke="#58b8e4" stroke-opacity="0.50"/>
<path d="M184.7 264.5Q178.5 271.0 169.5 270.4" stroke="#58b8e4" stroke-opacity="0.50"/>
<path d="M184.7 264.5Q185.8 270.2 183.3 275.5" stroke="#58b8e4" stroke-opacity="0.50"/>
<path d="M184.7 264.5Q186.0 259.8 188.8 255.8" stroke="#58b8e4" stroke-opacity="0.35"/>
<path d="M184.7 264.5Q180.1 255.7 171.4 250.8" stroke="#58b8e4" stroke-opacity="0.35"/>
<path d="M184.7 264.5Q191.9 272.5 190.3 283.2" stroke="#58b8e4" stroke-opacity="0.35"/>
<path d="M184.7 264.5Q217.8 278.9 246.6 257.1" stroke="#58b8e4" stroke-opacity="0.25"/>
<path d="M183.3 275.5Q155.5 253.9 144.3 220.5" stroke="#58b8e4" stroke-opacity="0.50"/>
<path d="M183.3 275.5Q169.3 267.0 153.4 270.8" stroke="#58b8e4" stroke-opacity="0.50"/>
<path d="M183.3 275.5Q185.9 280.2 190.3 283.2" stroke="#58b8e4" stroke-opacity="0.35"/>
<path d="M183.3 275.5Q191.7 278.8 198.5 284.9" stroke="#58b8e4" stroke-opacity="0.35"/>
<path d="M183.3 275.5Q193.2 280.4 202.2 274.0" stroke="#58b8e4" stroke-opacity="0.35"/>
<path d="M183.3 275.5Q170.7 238.8 145.2 209.6" stroke="#58b8e4" stroke-opacity="0.17"/>
<path d="M183.3 275.5Q186.9 256.0 171.6 243.4" stroke="#58b8e4" stroke-opacity="0.25"/>
<path d="M203.5 242.2Q186.6 243.2 171.4 250.8" stroke="#36b856" stroke-opacity="0.50"/>
<path d="M203.5 242.2Q217.5 251.4 232.5 243.8" stroke="#36b856" stroke-opacity="0.50"/>
<path d="M203.5 242.2Q174.1 233.9 144.1 240.1" stroke="#36b856" stroke-opacity="0.50"/>
<path d="M203.5 242.2Q180.3 249.1 160.5 263.1" stroke="#36b856" stroke-opacity="0.50"/>
<path d="M203.5 242.2Q211.4 252.0 209.5 264.5" stroke="#36b856" stroke-opacity="0.50"/>
<path d="M203.5 242.2Q195.3 260.3 203.3 278.4" stroke="#36b856" stroke-opacity="0.50"/>
<path d="M203.5 242.2Q201.4 264.2 190.3 283.2" stroke="#36b856" stroke-opacity="0.50"/>
<path d="M203.5 242.2Q204.7 264.0 198.5 284.9" stroke="#36b856" stroke-opacity="0.50"/>
<path d="M203.5 242.2Q207.1 254.0 218.9 257.6" stroke="#36b856" stroke-opacity="0.50"/>
<path d="M203.5 242.2Q217.6 253.5 235.6 254.4" stroke="#36b856" stroke-opacity="0.50"/>
<path d="M203.5 242.2Q226.6 245.2 246.6 257.1" stroke="#36b856" stroke-opacity="0.50"/>
<path d="M203.5 242.2Q210.6 249.1 220.4 247.7" stroke="#36b856" stroke-opacity="0.35"/>
<path d="M203.5 242.2Q177.0 272.1 173.3 311.9" stroke="#36b856" stroke-opacity="0.17"/>
<path d="M203.5 242.2Q226.9 233.6 241.6 213.5" stroke="#36b856" stroke-opacity="0.25"/>
<path d="M171.6 243.4Q187.7 246.3 203.5 242.2" stroke="#36b856" stroke-opacity="0.50"/>
<path d="M171.6 243.4Q201.9 259.7 232.5 243.8" stroke="#36b856" stroke-opacity="0.50"/>
<path d="M171.6 243.4Q178.6 251.9 188.8 255.8" stroke="#36b856" stroke-opacity="0.50"/>
<path d="M171.6 243.4Q202.4 251.1 227.6 270.4" stroke="#36b856" stroke-opacity="0.50"/>
<path d="M171.6 243.4Q169.0 232.8 158.6 229.4" stroke="#36b856" stroke-opacity="0.35"/>
<path d="M171.6 243.4Q165.4 234.5 166.6 223.7" stroke="#36b856" stroke-opacity="0.35"/>
<path d="M171.6 243.4Q213.8 245.3 241.6 213.5" stroke="#36b856" stroke-opacity="0.17"/>
<path d="M171.4 250.8Q173.1 247.1 171.6 243.4" stroke="#36b856" stroke-opacity="0.50"/>
<path d="M171.4 250.8Q201.2 240.5 232.5 243.8" stroke="#36b856" stroke-opacity="0.50"/>
<path d="M171.4 250.8Q156.5 248.6 144.1 240.1" stroke="#36b856" stroke-opacity="0.50"/>
<path d="M171.4 250.8Q179.0 257.1 188.8 255.8" stroke="#36b856" stroke-opacity="0.50"/>
<path d="M171.4 250.8Q164.7 255.9 160.5 263.1" stroke="#36b856" stroke-opacity="0.50"/>
<path d="M171.4 250.8Q194.1 247.5 209.5 264.5" stroke="#36b856" stroke-opacity="0.50"/>
<path d="M171.4 250.8Q184.0 268.5 203.3 278.4" stroke="#36b856" stroke-opacity="0.50"/>
<path d="M171.4 250.8Q178.2 268.5 190.3 283.2" stroke="#36b856" stroke-opacity="0.50"/>
<path d="M171.4 250.8Q194.4 259.5 218.9 257.6" stroke="#36b856" stroke-opacity="0.50"/>
<path d="M171.4 250.8Q210.4 237.0 246.6 257.1" stroke="#36b856" stroke-opacity="0.35"/>
<path d="M171.4 250.8Q209.3 288.5 261.4 276.6" stroke="#36b856" stroke-opacity="0.17"/>
<path d="M232.5 243.8Q187.6 257.6 144.1 240.1" stroke="#36b856" stroke-opacity="0.35"/>
<path d="M232.5 243.8Q214.0 262.0 188.8 255.8" stroke="#36b856" stroke-opacity="0.50"/>
<path d="M232.5 243.8Q199.7 265.2 160.5 263.1" stroke="#36b856" stroke-opacity="0.35"/>
<path d="M232.5 243.8Q234.8 258.0 227.6 270.4" stroke="#36b856" stroke-opacity="0.50"/>
<path d="M232.5 243.8Q211.2 252.7 202.2 274.0" stroke="#36b856" stroke-opacity="0.50"/>
<path d="M232.5 243.8Q214.5 258.2 203.3 278.4" stroke="#36b856" stroke-opacity="0.50"/>
<path d="M232.5 243.8Q207.5 257.8 198.5 284.9" stroke="#36b856" stroke-opacity="0.50"/>
<path d="M232.5 243.8Q221.6 246.7 218.9 257.6" stroke="#36b856" stroke-opacity="0.50"/>
<path d="M232.5 243.8Q227.6 249.3 220.4 247.7" stroke="#36b856" stroke-opacity="0.35"/>
<path d="M232.5 243.8Q223.1 234.5 225.2 221.4" stroke="#36b856" stroke-opacity="0.35"/>
<path d="M232.5 243.8Q197.9 235.1 182.9 202.7" stroke="#36b856" stroke-opacity="0.25"/>
<path d="M144.1 240.1Q157.1 247.6 171.6 243.4" stroke="#36b856" stroke-opacity="0.50"/>
<path d="M144.1 240.1Q163.2 257.1 188.8 255.8" stroke="#36b856" stroke-opacity="0.50"/>
<path d="M144.1 240.1Q169.7 271.2 209.5 264.5" stroke="#36b856" stroke-opacity="0.50"/>
<path d="M144.1 240.1Q165.5 270.1 202.2 274.0" stroke="#36b856" stroke-opacity="0.50"/>
<path d="M144.1 240.1Q179.3 250.6 203.3 278.4" stroke="#36b856" stroke-opacity="0.35"/>
<path d="M144.1 240.1Q162.5 273.2 198.5 284.9" stroke="#36b856" stroke-opacity="0.35"/>
<path d="M144.1 240.1Q193.7 222.9 235.6 254.4" stroke="#36b856" stroke-opacity="0.35"/>
<path d="M144.1 240.1Q144.9 248.7 138.9 254.9" stroke="#36b856" stroke-opacity="0.35"/>
<path d="M144.1 240.1Q149.9 247.4 159.2 247.7" stroke="#36b856" stroke-opacity="0.35"/>
<path d="M144.1 240.1Q139.8 230.3 144.3 220.5" stroke="#36b856" stroke-opacity="0.25"/>
<path d="M144.1 240.1Q199.1 297.4 278.5 300.4" stroke="#36b856" stroke-opacity="0.17"/>
<path d="M188.8 255.8Q197.8 263.4 209.5 264.5" stroke="#36b856" stroke-opacity="0.50"/>
<path d="M188.8 255.8Q199.2 262.2 202.2 274.0" stroke="#36b856" stroke-opacity="0.50"/>
<path d="M188.8 255.8Q189.7 271.7 198.5 284.9" stroke="#36b856" stroke-opacity="0.50"/>
<path d="M188.8 255.8Q217.9 249.5 246.6 257.1" stroke="#36b856" stroke-opacity="0.50"/>
<path d="M188.8 255.8Q190.0 266.8 183.3 275.5" stroke="#36b856" stroke-opacity="0.35"/>
<path d="M188.8 255.8Q156.3 237.6 136.7 205.9" stroke="#36b856" stroke-opacity="0.17"/>
<path d="M188.8 255.8Q232.2 288.4 285.4 278.0" stroke="#36b856" stroke-opacity="0.17"/>
<path d="M160.5 263.1Q162.2 251.1 171.6 243.4" stroke="#36b856" stroke-opacity="0.50"/>
<path d="M160.5 263.1Q176.4 266.1 188.8 255.8" stroke="#36b856" stroke-opacity="0.50"/>
<path d="M160.5 263.1Q185.3 253.9 209.5 264.5" stroke="#36b856" stroke-opacity="0.50"/>
<path d="M160.5 263.1Q183.5 260.2 202.2 274.0" stroke="#36b856" stroke-opacity="0.50"/>
<path d="M160.5 263.1Q185.6 260.4 203.3 278.4" stroke="#36b856" stroke-opacity="0.50"/>
<path d="M160.5 263.1Q180.8 265.2 190.3 283.2" stroke="#36b856" stroke-opacity="0.50"/>
<path d="M160.5 263.1Q185.1 264.3 198.5 284.9" stroke="#36b856" stroke-opacity="0.50"/>
<path d="M160.5 263.1Q188.2 244.6 218.9 257.6" stroke="#36b856" stroke-opacity="0.50"/>
<path d="M160.5 263.1Q196.2 242.4 235.6 254.4" stroke="#36b856" stroke-opacity="0.35"/>
<path d="M160.5 263.1Q202.5 244.5 246.6 257.1" stroke="#36b856" stroke-opacity="0.35"/>
<path d="M160.5 263.1Q158.5 252.0 149.3 245.3" stroke="#36b856" stroke-opacity="0.35"/>
<path d="M160.5 263.1Q135.1 225.9 142.9 181.6" stroke="#36b856" stroke-opacity="0.17"/>
<path d="M160.5 263.1Q145.7 267.4 130.5 265.0" stroke="#36b856" stroke-opacity="0.25"/>
<path d="M209.5 264.5Q187.0 260.4 171.6 243.4" stroke="#36b856" stroke-opacity="0.50"/>
<path d="M209.5 264.5Q217.6 250.4 232.5 243.8" stroke="#36b856" stroke-opacity="0.50"/>
<path d="M209.5 264.5Q208.1 271.0 202.2 274.0" stroke="#36b856" stroke-opacity="0.50"/>
<path d="M209.5 264.5Q208.9 272.6 203.3 278.4" stroke="#36b856" stroke-opacity="0.50"/>
<path d="M209.5 264.5Q212.6 258.8 218.9 257.6" stroke="#36b856" stroke-opacity="0.50"/>
<path d="M209.5 264.5Q225.4 266.8 235.6 254.4" stroke="#36b856" stroke-opacity="0.50"/>
<path d="M209.5 264.5Q211.3 253.7 220.4 247.7" stroke="#36b856" stroke-opacity="0.35"/>
<path d="M209.5 264.5Q200.7 292.7 174.7 306.8" stroke="#36b856" stroke-opacity="0.25"/>
<path d="M209.5 264.5Q189.0 228.3 154.5 205.0" stroke="#36b856" stroke-opacity="0.17"/>
<path d="M227.6 270.4Q222.8 250.1 203.5 242.2" stroke="#36b856" stroke-opacity="0.50"/>
<path d="M227.6 270.4Q194.4 275.3 171.4 250.8" stroke="#36b856" stroke-opacity="0.50"/>
<path d="M227.6 270.4Q206.3 268.2 188.8 255.8" stroke="#36b856" stroke-opacity="0.50"/>
<path d="M227.6 270.4Q195.8 250.7 160.5 263.1" stroke="#36b856" stroke-opacity="0.50"/>
<path d="M227.6 270.4Q215.8 278.8 202.2 274.0" stroke="#36b856" stroke-opacity="0.50"/>
<path d="M227.6 270.4Q207.6 273.0 190.3 283.2" stroke="#36b856" stroke-opacity="0.50"/>
<path d="M227.6 270.4Q235.7 264.5 235.6 254.4" stroke="#36b856" stroke-opacity="0.50"/>
<path d="M227.6 270.4Q222.0 259.7 220.4 247.7" stroke="#36b856" stroke-opacity="0.35"/>
<path d="M227.6 270.4Q190.7 255.3 166.6 223.7" stroke="#36b856" stroke-opacity="0.17"/>
<path d="M227.6 270.4Q200.7 299.0 161.5 296.8" stroke="#36b856" stroke-opacity="0.17"/>
<path d="M202.2 274.0Q194.4 257.8 203.5 242.2" stroke="#36b856" stroke-opacity="0.50"/>
<path d="M202.2 274.0Q190.1 255.5 171.6 243.4" stroke="#36b856" stroke-opacity="0.50"/>
<path d="M202.2 274.0Q182.5 268.2 171.4 250.8" stroke="#36b856" stroke-opacity="0.50"/>
<path d="M202.2 274.0Q198.6 281.6 190.3 283.2" stroke="#36b856" stroke-opacity="0.50"/>
<path d="M202.2 274.0Q201.6 279.9 198.5 284.9" stroke="#36b856" stroke-opacity="0.50"/>
<path d="M202.2 274.0Q215.0 270.3 218.9 257.6" stroke="#36b856" stroke-opacity="0.50"/>
<path d="M202.2 274.0Q224.1 273.0 235.6 254.4" stroke="#36b856" stroke-opacity="0.50"/>
<path d="M202.2 274.0Q227.8 274.4 246.6 257.1" stroke="#36b856" stroke-opacity="0.50"/>
<path d="M202.2 274.0Q250.4 273.5 274.0 231.5" stroke="#36b856" stroke-opacity="0.17"/>
<path d="M202.2 274.0Q173.2 258.2 151.0 233.7" stroke="#36b856" stroke-opacity="0.25"/>
<path d="M203.3 278.4Q180.9 266.8 171.6 243.4" stroke="#36b856" stroke-opacity="0.50"/>
<path d="M203.3 278.4Q202.2 263.2 188.8 255.8" stroke="#36b856" stroke-opacity="0.50"/>
<path d="M203.3 278.4Q214.7 272.1 227.6 270.4" stroke="#36b856" stroke-opacity="0.50"/>
<path d="M203.3 278.4Q203.9 275.9 202.2 274.0" stroke="#36b856" stroke-opacity="0.50"/>
<path d="M203.3 278.4Q213.9 258.9 235.6 254.4" stroke="#36b856" stroke-opacity="0.50"/>
<path d="M203.3 278.4Q228.5 275.0 246.6 257.1" stroke="#36b856" stroke-opacity="0.50"/>
<path d="M203.3 278.4Q192.8 280.1 183.3 275.5" stroke="#36b856" stroke-opacity="0.35"/>
<path d="M203.3 278.4Q200.0 213.4 232.7 157.1" stroke="#36b856" stroke-opacity="0.17"/>
<path d="M203.3 278.4Q200.9 233.9 231.0 201.0" stroke="#36b856" stroke-opacity="0.17"/>
<path d="M190.3 283.2Q175.9 265.7 171.6 243.4" stroke="#36b856" stroke-opacity="0.50"/>
<path d="M190.3 283.2Q177.5 250.6 144.1 240.1" stroke="#36b856" stroke-opacity="0.50"/>
<path d="M190.3 283.2Q203.8 277.8 209.5 264.5" stroke="#36b856" stroke-opacity="0.50"/>
<path d="M190.3 283.2Q198.2 284.5 203.3 278.4" stroke="#36b856" stroke-opacity="0.50"/>
<path d="M190.3 283.2Q194.3 284.7 198.5 284.9" stroke="#36b856" stroke-opacity="0.50"/>
<path d="M190.3 283.2Q208.5 274.8 218.9 257.6" stroke="#36b856" stroke-opacity="0.50"/>
<path d="M190.3 283.2Q209.1 262.7 235.6 254.4" stroke="#36b856" stroke-opacity="0.50"/>
<path d="M190.3 283.2Q183.9 210.9 232.7 157.1" stroke="#36b856" stroke-opacity="0.17"/>
<path d="M190.3 283.2Q237.1 267.3 285.4 278.0" stroke="#36b856" stroke-opacity="0.17"/>
<path d="M198.5 284.9Q188.2 265.3 171.4 250.8" stroke="#36b856" stroke-opacity="0.50"/>
<path d="M198.5 284.9Q215.3 282.3 227.6 270.4" stroke="#36b856" stroke-opacity="0.50"/>
<path d="M198.5 284.9Q199.0 280.2 203.3 278.4" stroke="#36b856" stroke-opacity="0.50"/>
<path d="M198.5 284.9Q181.6 203.6 242.3 146.9" stroke="#36b856" stroke-opacity="0.17"/>
<path d="M198.5 284.9Q153.9 267.4 144.3 220.5" stroke="#36b856" stroke-opacity="0.17"/>
<path d="M218.9 257.6Q185.3 232.4 144.1 240.1" stroke="#36b856" stroke-opacity="0.35"/>
<path d="M218.9 257.6Q203.6 261.5 188.8 255.8" stroke="#36b856" stroke-opacity="0.50"/>
<path d="M218.9 257.6Q220.0 266.2 227.6 270.4" stroke="#36b856" stroke-opacity="0.50"/>
<path d="M218.9 257.6Q232.6 249.8 246.6 257.1" stroke="#36b856" stroke-opacity="0.50"/>
<path d="M218.9 257.6Q217.4 252.3 220.4 247.7" stroke="#36b856" stroke-opacity="0.35"/>
<path d="M218.9 257.6Q172.5 235.5 130.5 265.0" stroke="#36b856" stroke-opacity="0.17"/>
<path d="M235.6 254.4Q204.4 237.0 171.4 250.8" stroke="#36b856" stroke-opacity="0.50"/>
<path d="M235.6 254.4Q232.4 249.6 232.5 243.8" stroke="#36b856" stroke-opacity="0.50"/>
<path d="M235.6 254.4Q240.7 257.4 246.6 257.1" stroke="#36b856" stroke-opacity="0.50"/>
<path d="M235.6 254.4Q229.5 247.6 220.4 247.7" stroke="#36b856" stroke-opacity="0.35"/>
<path d="M235.6 254.4Q200.6 221.4 152.5 220.1" stroke="#36b856" stroke-opacity="0.17"/>
<path d="M235.6 254.4Q187.8 266.2 150.5 234.1" stroke="#36b856" stroke-opacity="0.17"/>
<path d="M246.6 257.1Q210.7 241.8 171.6 243.4" stroke="#36b856" stroke-opacity="0.35"/>
<path d="M246.6 257.1Q228.7 263.8 209.5 264.5" stroke="#36b856" stroke-opacity="0.50"/>
<path d="M246.6 257.1Q234.9 260.5 227.6 270.4" stroke="#36b856" stroke-opacity="0.50"/>
<path d="M246.6 257.1Q216.8 261.1 198.5 284.9" stroke="#36b856" stroke-opacity="0.50"/>
<path d="M246.6 257.1Q248.0 261.6 252.6 262.6" stroke="#36b856" stroke-opacity="0.35"/>
<path d="M246.6 257.1Q256.2 265.2 261.4 276.6" stroke="#36b856" stroke-opacity="0.35"/>
<path d="M246.6 257.1Q199.5 238.0 149.3 245.3" stroke="#36b856" stroke-opacity="0.17"/>
<path d="M246.6 257.1Q259.2 275.8 277.9 288.4" stroke="#36b856" stroke-opacity="0.25"/>
<path d="M220.4 247.7Q239.6 248.4 252.6 262.6" stroke="#dada60" stroke-opacity="0.50"/>
<path d="M220.4 247.7Q252.7 245.5 277.0 267.0" stroke="#dada60" stroke-opacity="0.50"/>
<path d="M220.4 247.7Q234.9 270.7 261.4 276.6" stroke="#dada60" stroke-opacity="0.50"/>
<path d="M220.4 247.7Q246.2 270.8 280.5 274.8" stroke="#dada60" stroke-opacity="0.50"/>
<path d="M220.4 247.7Q245.7 278.4 285.4 278.0" stroke="#dada60" stroke-opacity="0.35"/>
<path d="M220.4 247.7Q259.0 255.3 274.4 291.4" stroke="#dada60" stroke-opacity="0.50"/>
<path d="M220.4 247.7Q234.8 290.2 278.5 300.4" stroke="#dada60" stroke-opacity="0.35"/>
<path d="M220.4 247.7Q237.4 290.6 282.9 298.9" stroke="#dada60" stroke-opacity="0.35"/>
<path d="M220.4 247.7Q259.6 260.2 273.5 298.9" stroke="#dada60" stroke-opacity="0.17"/>
<path d="M220.4 247.7Q234.3 278.8 261.8 298.9" stroke="#dada60" stroke-opacity="0.25"/>
<path d="M252.6 262.6Q265.4 261.7 277.0 267.0" stroke="#dada60" stroke-opacity="0.50"/>
<path d="M252.6 262.6Q254.5 271.2 261.4 276.6" stroke="#dada60" stroke-opacity="0.50"/>
<path d="M252.6 262.6Q258.3 282.3 277.9 288.4" stroke="#dada60" stroke-opacity="0.50"/>
<path d="M252.6 262.6Q261.7 279.6 261.8 298.9" stroke="#dada60" stroke-opacity="0.50"/>
<path d="M252.6 262.6Q241.7 263.5 235.6 254.4" stroke="#dada60" stroke-opacity="0.35"/>
<path d="M252.6 262.6Q240.9 268.9 227.6 270.4" stroke="#dada60" stroke-opacity="0.35"/>
<path d="M252.6 262.6Q188.2 252.1 139.5 295.5" stroke="#dada60" stroke-opacity="0.17"/>
<path d="M252.6 262.6Q197.4 253.5 152.5 220.1" stroke="#dada60" stroke-opacity="0.17"/>
<path d="M277.0 267.0Q271.3 275.2 261.4 276.6" stroke="#dada60" stroke-opacity="0.50"/>
<path d="M277.0 267.0Q279.7 270.5 280.5 274.8" stroke="#dada60" stroke-opacity="0.50"/>
<path d="M277.0 267.0Q268.7 284.1 278.5 300.4" stroke="#dada60" stroke-opacity="0.50"/>
<path d="M277.0 267.0Q276.4 283.6 282.9 298.9" stroke="#dada60" stroke-opacity="0.50"/>
<path d="M277.0 267.0Q255.1 203.4 194.0 175.3" stroke="#dada60" stroke-opacity="0.17"/>
<path d="M277.0 267.0Q219.8 277.2 173.3 311.9" stroke="#dada60" stroke-opacity="0.17"/>
<path d="M261.4 276.6Q271.4 280.6 280.5 274.8" stroke="#dada60" stroke-opacity="0.50"/>
<path d="M261.4 276.6Q273.7 272.1 285.4 278.0" stroke="#dada60" stroke-opacity="0.50"/>
<path d="M261.4 276.6Q264.2 287.3 274.4 291.4" stroke="#dada60" stroke-opacity="0.50"/>
<path d="M261.4 276.6Q251.4 256.3 232.5 243.8" stroke="#dada60" stroke-opacity="0.25"/>
<path d="M261.4 276.6Q226.3 202.2 144.8 191.2" stroke="#dada60" stroke-opacity="0.17"/>
<path d="M280.5 274.8Q263.1 276.6 252.6 262.6" stroke="#dada60" stroke-opacity="0.50"/>
<path d="M280.5 274.8Q277.9 281.4 277.9 288.4" stroke="#dada60" stroke-opacity="0.50"/>
<path d="M280.5 274.8Q268.4 284.7 261.8 298.9" stroke="#dada60" stroke-opacity="0.50"/>
<path d="M280.5 274.8Q279.8 287.7 273.5 298.9" stroke="#dada60" stroke-opacity="0.50"/>
<path d="M280.5 274.8Q279.3 287.1 282.9 298.9" stroke="#dada60" stroke-opacity="0.50"/>
<path d="M280.5 274.8Q199.4 254.5 144.8 191.2" stroke="#dada60" stroke-opacity="0.17"/>
<path d="M280.5 274.8Q276.9 232.1 247.7 200.7" stroke="#dada60" stroke-opacity="0.17"/>
<path d="M285.4 278.0Q265.5 277.7 252.6 262.6" stroke="#dada60" stroke-opacity="0.50"/>
<path d="M285.4 278.0Q282.6 271.4 277.0 267.0" stroke="#dada60" stroke-opacity="0.50"/>
<path d="M285.4 278.0Q283.8 275.1 280.5 274.8" stroke="#dada60" stroke-opacity="0.50"/>
<path d="M285.4 278.0Q279.1 281.3 277.9 288.4" stroke="#dada60" stroke-opacity="0.50"/>
<path d="M285.4 278.0Q276.9 282.2 274.4 291.4" stroke="#dada60" stroke-opacity="0.50"/>
<path d="M285.4 278.0Q279.9 287.9 282.9 298.9" stroke="#dada60" stroke-opacity="0.50"/>
<path d="M285.4 278.0Q258.0 262.9 227.6 270.4" stroke="#dada60" stroke-opacity="0.25"/>
<path d="M285.4 278.0Q249.9 244.1 203.5 228.1" stroke="#dada60" stroke-opacity="0.17"/>
<path d="M277.9 288.4Q240.9 279.7 220.4 247.7" stroke="#dada60" stroke-opacity="0.35"/>
<path d="M277.9 288.4Q274.5 293.2 273.5 298.9" stroke="#dada60" stroke-opacity="0.50"/>
<path d="M277.9 288.4Q279.2 294.2 282.9 298.9" stroke="#dada60" stroke-opacity="0.50"/>
<path d="M277.9 288.4Q207.5 253.0 172.7 182.3" stroke="#dada60" stroke-opacity="0.17"/>
<path d="M277.9 288.4Q277.0 290.9 274.4 291.4" stroke="#dada60" stroke-opacity="0.25"/>
<path d="M274.4 291.4Q260.4 279.3 252.6 262.6" stroke="#dada60" stroke-opacity="0.50"/>
<path d="M274.4 291.4Q269.6 297.7 261.8 298.9" stroke="#dada60" stroke-opacity="0.50"/>
<path d="M274.4 291.4Q273.4 295.1 273.5 298.9" stroke="#dada60" stroke-opacity="0.50"/>
<path d="M274.4 291.4Q274.3 296.9 278.5 300.4" stroke="#dada60" stroke-opacity="0.50"/>
<path d="M274.4 291.4Q280.7 292.8 282.9 298.9" stroke="#dada60" stroke-opacity="0.50"/>
<path d="M274.4 291.4Q243.2 251.3 247.7 200.7" stroke="#dada60" stroke-opacity="0.17"/>
<path d="M274.4 291.4Q227.2 223.3 144.3 220.5" stroke="#dada60" stroke-opacity="0.17"/>
<path d="M261.8 298.9Q257.6 287.8 261.4 276.6" stroke="#dada60" stroke-opacity="0.50"/>
<path d="M261.8 298.9Q267.6 300.4 273.5 298.9" stroke="#dada60" stroke-opacity="0.50"/>
<path d="M261.8 298.9Q269.7 304.3 278.5 300.4" stroke="#dada60" stroke-opacity="0.50"/>
<path d="M261.8 298.9Q242.9 260.0 203.5 242.2" stroke="#dada60" stroke-opacity="0.17"/>
<path d="M261.8 298.9Q272.4 304.3 282.9 298.9" stroke="#dada60" stroke-opacity="0.25"/>
<path d="M273.5 298.9Q259.3 282.9 252.6 262.6" stroke="#dada60" stroke-opacity="0.50"/>
<path d="M273.5 298.9Q272.2 282.6 277.0 267.0" stroke="#dada60" stroke-opacity="0.50"/>
<path d="M273.5 298.9Q284.2 291.2 285.4 278.0" stroke="#dada60" stroke-opacity="0.50"/>
<path d="M273.5 298.9Q275.9 300.1 278.5 300.4" stroke="#dada60" stroke-opacity="0.50"/>
<path d="M273.5 298.9Q278.2 300.5 282.9 298.9" stroke="#dada60" stroke-opacity="0.50"/>
<path d="M273.5 298.9Q219.7 276.6 173.3 311.9" stroke="#dada60" stroke-opacity="0.17"/>
<path d="M273.5 298.9Q199.9 305.4 128.3 286.8" stroke="#dada60" stroke-opacity="0.17"/>
<path d="M278.5 300.4Q276.5 294.5 277.9 288.4" stroke="#dada60" stroke-opacity="0.50"/>
<path d="M278.5 300.4Q241.3 227.3 172.7 182.3" stroke="#dada60" stroke-opacity="0.17"/>
<path d="M282.9 298.9Q272.3 277.0 252.6 262.6" stroke="#dada60" stroke-opacity="0.50"/>
<path d="M282.9 298.9Q280.4 298.7 278.5 300.4" stroke="#dada60" stroke-opacity="0.50"/>
<path d="M282.9 298.9Q239.2 223.8 152.5 220.1" stroke="#dada60" stroke-opacity="0.17"/>
<path d="M282.9 298.9Q233.3 260.6 171.4 250.8" stroke="#dada60" stroke-opacity="0.17"/>
<path d="M138.9 254.9Q136.6 261.5 130.5 265.0" stroke="#f6a650" stroke-opacity="0.50"/>
<path d="M138.9 254.9Q124.3 260.7 122.1 276.2" stroke="#f6a650" stroke-opacity="0.50"/>
<path d="M138.9 254.9Q141.9 273.6 128.3 286.8" stroke="#f6a650" stroke-opacity="0.50"/>
<path d="M138.9 254.9Q128.2 280.4 128.0 308.0" stroke="#f6a650" stroke-opacity="0.50"/>
<path d="M138.9 254.9Q147.7 247.5 159.2 247.7" stroke="#f6a650" stroke-opacity="0.35"/>
<path d="M138.9 254.9Q170.9 214.5 217.4 192.3" stroke="#f6a650" stroke-opacity="0.17"/>
<path d="M138.9 254.9Q152.0 244.6 158.6 229.4" stroke="#f6a650" stroke-opacity="0.25"/>
<path d="M130.5 265.0Q129.4 272.9 122.1 276.2" stroke="#f6a650" stroke-opacity="0.50"/>
<path d="M130.5 265.0Q135.2 276.5 128.3 286.8" stroke="#f6a650" stroke-opacity="0.50"/>
<path d="M130.5 265.0Q132.3 281.1 139.5 295.5" stroke="#f6a650" stroke-opacity="0.50"/>
<path d="M130.5 265.0Q149.4 272.4 169.5 270.4" stroke="#f6a650" stroke-opacity="0.25"/>
<path d="M130.5 265.0Q200.3 210.6 281.2 246.3" stroke="#f6a650" stroke-opacity="0.17"/>
<path d="M122.1 276.2Q122.8 282.9 128.3 286.8" stroke="#f6a650" stroke-opacity="0.50"/>
<path d="M122.1 276.2Q133.0 283.9 139.5 295.5" stroke="#f6a650" stroke-opacity="0.50"/>
<path d="M122.1 276.2Q128.5 291.5 128.0 308.0" stroke="#f6a650" stroke-opacity="0.50"/>
<path d="M122.1 276.2Q156.3 239.3 171.3 191.3" stroke="#f6a650" stroke-opacity="0.17"/>
<path d="M122.1 276.2Q150.2 264.8 171.6 243.4" stroke="#f6a650" stroke-opacity="0.25"/>
<path d="M132.0 276.2Q137.0 266.1 138.9 254.9" stroke="#f6a650" stroke-opacity="0.50"/>
<path d="M132.0 276.2Q132.4 270.5 130.5 265.0" stroke="#f6a650" stroke-opacity="0.50"/>
<path d="M132.0 276.2Q131.1 281.8 128.3 286.8" stroke="#f6a650" stroke-opacity="0.50"/>
<path d="M132.0 276.2Q137.9 285.0 139.5 295.5" stroke="#f6a650" stroke-opacity="0.50"/>
<path d="M132.0 276.2Q156.2 221.3 212.2 199.9" stroke="#f6a650" stroke-opacity="0.17"/>
<path d="M132.0 276.2Q133.4 246.0 158.6 229.4" stroke="#f6a650" stroke-opacity="0.25"/>
<path d="M119.6 282.0Q123.5 272.5 130.5 265.0" stroke="#f6a650" stroke-opacity="0.50"/>
<path d="M119.6 282.0Q119.7 278.6 122.1 276.2" stroke="#f6a650" stroke-opacity="0.50"/>
<path d="M119.6 282.0Q125.1 282.3 128.3 286.8" stroke="#f6a650" stroke-opacity="0.50"/>
<path d="M119.6 282.0Q204.5 243.9 278.5 300.4" stroke="#f6a650" stroke-opacity="0.17"/>
<path d="M119.6 282.0Q154.4 259.3 178.6 225.5" stroke="#f6a650" stroke-opacity="0.17"/>
<path d="M128.3 286.8Q134.8 290.0 139.5 295.5" stroke="#f6a650" stroke-opacity="0.50"/>
<path d="M128.3 286.8Q130.6 297.4 128.0 308.0" stroke="#f6a650" stroke-opacity="0.50"/>
<path d="M128.3 286.8Q190.9 259.3 241.6 213.5" stroke="#f6a650" stroke-opacity="0.17"/>
<path d="M128.3 286.8Q162.3 263.3 202.2 274.0" stroke="#f6a650" stroke-opacity="0.17"/>
<path d="M139.5 295.5Q142.8 275.1 138.9 254.9" stroke="#f6a650" stroke-opacity="0.50"/>
<path d="M139.5 295.5Q126.9 292.7 119.6 282.0" stroke="#f6a650" stroke-opacity="0.50"/>
<path d="M139.5 295.5Q150.1 302.5 161.5 296.8" stroke="#f6a650" stroke-opacity="0.35"/>
<path d="M139.5 295.5Q152.7 251.2 154.5 205.0" stroke="#f6a650" stroke-opacity="0.17"/>
<path d="M139.5 295.5Q165.1 268.0 202.2 274.0" stroke="#f6a650" stroke-opacity="0.25"/>
<path d="M128.0 308.0Q126.3 294.2 119.6 282.0" stroke="#f6a650" stroke-opacity="0.50"/>
<path d="M128.0 308.0Q147.4 310.3 161.5 296.8" stroke="#f6a650" stroke-opacity="0.25"/>
<path d="M128.0 308.0Q202.6 271.2 285.4 278.0" stroke="#f6a650" stroke-opacity="0.17"/>
<path d="M161.5 296.8Q171.0 297.9 174.7 306.8" stroke="#f4a0dc" stroke-opacity="0.50"/>
<path d="M161.5 296.8Q167.2 303.3 167.2 311.9" stroke="#f4a0dc" stroke-opacity="0.50"/>
<path d="M161.5 296.8Q163.6 307.3 173.3 311.9" stroke="#f4a0dc" stroke-opacity="0.50"/>
<path d="M161.5 296.8Q161.1 282.7 153.4 270.8" stroke="#f4a0dc" stroke-opacity="0.35"/>
<path d="M161.5 296.8Q171.7 271.7 159.2 247.7" stroke="#f4a0dc" stroke-opacity="0.25"/>
<path d="M161.5 296.8Q215.4 262.8 231.0 201.0" stroke="#f4a0dc" stroke-opacity="0.17"/>
<path d="M174.7 306.8Q169.8 307.6 167.2 311.9" stroke="#f4a0dc" stroke-opacity="0.50"/>
<path d="M174.7 306.8Q173.1 309.1 173.3 311.9" stroke="#f4a0dc" stroke-opacity="0.50"/>
<path d="M174.7 306.8Q187.2 298.1 190.3 283.2" stroke="#f4a0dc" stroke-opacity="0.35"/>
<path d="M174.7 306.8Q193.0 302.8 198.5 284.9" stroke="#f4a0dc" stroke-opacity="0.35"/>
<path d="M174.7 306.8Q153.3 280.8 119.6 282.0" stroke="#f4a0dc" stroke-opacity="0.25"/>
<path d="M174.7 306.8Q163.3 274.5 130.5 265.0" stroke="#f4a0dc" stroke-opacity="0.25"/>
<path d="M167.2 311.9Q170.2 311.1 173.3 311.9" stroke="#f4a0dc" stroke-opacity="0.50"/>
<path d="M167.2 311.9Q157.2 297.3 139.5 295.5" stroke="#f4a0dc" stroke-opacity="0.35"/>
<path d="M167.2 311.9Q187.3 304.4 190.3 283.2" stroke="#f4a0dc" stroke-opacity="0.35"/>
<path d="M167.2 311.9Q148.7 281.6 159.2 247.7" stroke="#f4a0dc" stroke-opacity="0.25"/>
<path d="M173.3 311.9Q174.2 293.0 190.3 283.2" stroke="#f4a0dc" stroke-opacity="0.35"/>
<path d="M173.3 311.9Q178.3 291.3 198.5 284.9" stroke="#f4a0dc" stroke-opacity="0.35"/>
<path d="M173.3 311.9Q150.0 282.7 149.3 245.3" stroke="#f4a0dc" stroke-opacity="0.17"/>
<path d="M173.3 311.9Q186.4 280.9 171.4 250.8" stroke="#f4a0dc" stroke-opacity="0.25"/>
<path d="M229.2 185.4Q258.3 231.1 311.0 244.0" stroke="#f27a78" stroke-opacity="0.15"/>
<path d="M220.7 176.6Q253.7 226.6 311.0 244.0" stroke="#f27a78" stroke-opacity="0.15"/>
<path d="M171.3 191.3Q250.9 191.9 311.0 244.0" stroke="#f27a78" stroke-opacity="0.15"/>
<path d="M203.5 228.1Q172.3 264.2 173.3 311.9" stroke="#f27a78" stroke-opacity="0.42"/>
<path d="M172.7 182.3Q236.5 232.1 316.5 244.0" stroke="#f27a78" stroke-opacity="0.15"/>
<path d="M229.2 185.4Q263.6 228.5 316.5 244.0" stroke="#f27a78" stroke-opacity="0.15"/>
<path d="M246.1 220.7Q285.2 220.6 316.5 244.0" stroke="#f27a78" stroke-opacity="0.15"/>
<path d="M138.9 254.9Q201.4 307.8 282.9 298.9" stroke="#f6a650" stroke-opacity="0.32"/>
<path d="M138.9 254.9Q209.9 280.5 285.4 278.0" stroke="#f6a650" stroke-opacity="0.32"/>
<path d="M138.9 254.9Q167.6 230.3 203.5 242.2" stroke="#f6a650" stroke-opacity="0.45"/>
<path d="M138.9 254.9Q147.9 246.0 151.0 233.7" stroke="#f6a650" stroke-opacity="0.45"/>
<path d="M138.9 254.9Q179.1 286.5 227.6 270.4" stroke="#f6a650" stroke-opacity="0.32"/>
<path d="M138.9 254.9Q142.0 280.3 161.5 296.8" stroke="#f6a650" stroke-opacity="0.45"/>
<path d="M130.5 265.0Q197.2 313.1 278.5 300.4" stroke="#f6a650" stroke-opacity="0.32"/>
<path d="M130.5 265.0Q166.4 268.5 198.5 284.9" stroke="#f6a650" stroke-opacity="0.32"/>
<path d="M130.5 265.0Q190.1 283.7 246.6 257.1" stroke="#f6a650" stroke-opacity="0.32"/>
<path d="M130.5 265.0Q130.9 249.0 144.1 240.1" stroke="#f6a650" stroke-opacity="0.45"/>
<path d="M130.5 265.0Q210.9 236.2 285.4 278.0" stroke="#f6a650" stroke-opacity="0.32"/>
<path d="M130.5 265.0Q215.5 242.2 282.9 298.9" stroke="#f6a650" stroke-opacity="0.32"/>
<path d="M122.1 276.2Q144.0 266.4 159.2 247.7" stroke="#f6a650" stroke-opacity="0.45"/>
<path d="M122.1 276.2Q167.0 247.1 220.4 247.7" stroke="#f6a650" stroke-opacity="0.32"/>
<path d="M122.1 276.2Q176.4 301.1 227.6 270.4" stroke="#f6a650" stroke-opacity="0.32"/>
<path d="M122.1 276.2Q166.4 267.9 203.5 242.2" stroke="#f6a650" stroke-opacity="0.32"/>
<path d="M122.1 276.2Q169.7 234.1 232.5 243.8" stroke="#f6a650" stroke-opacity="0.32"/>
<path d="M122.1 276.2Q144.0 299.3 173.3 311.9" stroke="#f6a650" stroke-opacity="0.45"/>
<path d="M132.0 276.2Q167.2 293.4 203.3 278.4" stroke="#f6a650" stroke-opacity="0.32"/>
<path d="M132.0 276.2Q147.9 299.2 174.7 306.8" stroke="#f6a650" stroke-opacity="0.45"/>
<path d="M132.0 276.2Q148.1 258.0 171.4 250.8" stroke="#f6a650" stroke-opacity="0.45"/>
<path d="M132.0 276.2Q181.0 292.9 218.9 257.6" stroke="#f6a650" stroke-opacity="0.32"/>
<path d="M119.6 282.0Q163.9 246.8 220.4 247.7" stroke="#f6a650" stroke-opacity="0.32"/>
<path d="M119.6 282.0Q157.7 247.3 154.3 195.8" stroke="#f6a650" stroke-opacity="0.32"/>
<path d="M119.6 282.0Q166.6 235.0 232.5 243.8" stroke="#f6a650" stroke-opacity="0.32"/>
<path d="M119.6 282.0Q172.7 267.4 227.6 270.4" stroke="#f6a650" stroke-opacity="0.32"/>
<path d="M119.6 282.0Q139.4 254.3 171.6 243.4" stroke="#f6a650" stroke-opacity="0.45"/>
<path d="M119.6 282.0Q204.9 255.0 282.9 298.9" stroke="#f6a650" stroke-opacity="0.32"/>
<path d="M128.3 286.8Q166.5 286.8 188.8 255.8" stroke="#f6a650" stroke-opacity="0.45"/>
<path d="M128.3 286.8Q146.4 277.7 160.5 263.1" stroke="#f6a650" stroke-opacity="0.45"/>
<path d="M128.3 286.8Q171.2 259.9 220.4 247.7" stroke="#f6a650" stroke-opacity="0.32"/>
<path d="M128.3 286.8Q192.7 286.2 252.6 262.6" stroke="#f6a650" stroke-opacity="0.32"/>
<path d="M128.3 286.8Q169.3 258.8 218.9 257.6" stroke="#f6a650" stroke-opacity="0.32"/>
<path d="M139.5 295.5Q207.6 337.1 278.5 300.4" stroke="#f6a650" stroke-opacity="0.32"/>
<path d="M139.5 295.5Q151.9 258.6 144.3 220.5" stroke="#f6a650" stroke-opacity="0.32"/>
<path d="M139.5 295.5Q151.4 265.8 151.0 233.7" stroke="#f6a650" stroke-opacity="0.45"/>
<path d="M139.5 295.5Q174.8 288.9 188.8 255.8" stroke="#f6a650" stroke-opacity="0.45"/>
<path d="M128.0 308.0Q162.4 285.1 203.3 278.4" stroke="#f6a650" stroke-opacity="0.32"/>
<path d="M128.0 308.0Q157.8 262.5 145.2 209.6" stroke="#f6a650" stroke-opacity="0.32"/>
<path d="M128.0 308.0Q160.9 268.9 144.3 220.5" stroke="#f6a650" stroke-opacity="0.32"/>
<path d="M128.0 308.0Q206.1 322.6 277.9 288.4" stroke="#f6a650" stroke-opacity="0.32"/>
<path d="M128.0 308.0Q133.6 277.9 160.5 263.1" stroke="#f6a650" stroke-opacity="0.45"/>
<path d="M128.0 308.0Q161.3 287.0 159.2 247.7" stroke="#f6a650" stroke-opacity="0.45"/>
<path d="M220.4 247.7Q160.8 257.3 128.0 308.0" stroke="#dada60" stroke-opacity="0.28"/>
<path d="M252.6 262.6Q214.0 213.7 154.3 195.8" stroke="#dada60" stroke-opacity="0.28"/>
<path d="M252.6 262.6Q197.9 255.4 161.5 296.8" stroke="#dada60" stroke-opacity="0.28"/>
<path d="M277.0 267.0Q232.6 297.8 183.3 275.5" stroke="#dada60" stroke-opacity="0.28"/>
<path d="M277.0 267.0Q197.5 272.1 154.5 205.0" stroke="#dada60" stroke-opacity="0.28"/>
<path d="M277.0 267.0Q213.1 241.1 144.1 240.1" stroke="#dada60" stroke-opacity="0.28"/>
<path d="M261.4 276.6Q198.3 265.0 152.5 220.1" stroke="#dada60" stroke-opacity="0.28"/>
<path d="M280.5 274.8Q211.7 266.9 151.0 233.7" stroke="#dada60" stroke-opacity="0.28"/>
<path d="M280.5 274.8Q247.3 245.9 203.5 242.2" stroke="#dada60" stroke-opacity="0.28"/>
<path d="M280.5 274.8Q217.7 248.7 153.4 270.8" stroke="#dada60" stroke-opacity="0.28"/>
<path d="M280.5 274.8Q206.4 290.9 132.0 276.2" stroke="#dada60" stroke-opacity="0.28"/>
<path d="M285.4 278.0Q267.2 252.0 235.6 254.4" stroke="#dada60" stroke-opacity="0.40"/>
<path d="M285.4 278.0Q201.8 251.6 119.6 282.0" stroke="#dada60" stroke-opacity="0.28"/>
<path d="M285.4 278.0Q223.5 239.9 151.0 233.7" stroke="#dada60" stroke-opacity="0.28"/>
<path d="M277.9 288.4Q228.3 298.7 183.3 275.5" stroke="#dada60" stroke-opacity="0.28"/>
<path d="M277.9 288.4Q234.7 276.2 190.3 283.2" stroke="#dada60" stroke-opacity="0.28"/>
<path d="M277.9 288.4Q197.3 321.2 119.6 282.0" stroke="#dada60" stroke-opacity="0.28"/>
<path d="M274.4 291.4Q218.4 298.6 169.5 270.4" stroke="#dada60" stroke-opacity="0.28"/>
<path d="M274.4 291.4Q226.6 332.1 167.2 311.9" stroke="#dada60" stroke-opacity="0.28"/>
<path d="M261.8 298.9Q194.1 261.7 119.6 282.0" stroke="#dada60" stroke-opacity="0.28"/>
<path d="M261.8 298.9Q222.6 230.4 144.3 220.5" stroke="#dada60" stroke-opacity="0.28"/>
<path d="M261.8 298.9Q211.4 307.9 161.5 296.8" stroke="#dada60" stroke-opacity="0.28"/>
<path d="M261.8 298.9Q269.3 283.6 285.4 278.0" stroke="#dada60" stroke-opacity="0.40"/>
<path d="M273.5 298.9Q194.8 306.2 119.6 282.0" stroke="#dada60" stroke-opacity="0.28"/>
<path d="M273.5 298.9Q203.2 342.2 128.0 308.0" stroke="#dada60" stroke-opacity="0.28"/>
<path d="M273.5 298.9Q222.4 294.6 188.8 255.8" stroke="#dada60" stroke-opacity="0.28"/>
<path d="M278.5 300.4Q222.2 307.0 184.7 264.5" stroke="#dada60" stroke-opacity="0.28"/>
<path d="M278.5 300.4Q256.6 287.6 252.6 262.6" stroke="#dada60" stroke-opacity="0.40"/>
<path d="M278.5 300.4Q219.7 276.1 167.2 311.9" stroke="#dada60" stroke-opacity="0.28"/>
<path d="M278.5 300.4Q237.5 262.7 183.3 275.5" stroke="#dada60" stroke-opacity="0.28"/>
<path d="M282.9 298.9Q265.5 294.2 261.4 276.6" stroke="#dada60" stroke-opacity="0.40"/>
<path d="M282.9 298.9Q192.3 297.4 144.3 220.5" stroke="#dada60" stroke-opacity="0.28"/>
<path d="M282.9 298.9Q206.8 326.8 128.0 308.0" stroke="#dada60" stroke-opacity="0.28"/>
</g>
<circle cx="242.3" cy="146.9" r="1.5" fill="#a468d2"/>
<circle cx="222.6" cy="162.2" r="1.5" fill="#a468d2"/>
<circle cx="220.7" cy="176.6" r="1.5" fill="#ef4a48"/>
<circle cx="281.2" cy="246.3" r="1.5" fill="#ef4a48"/>
<circle cx="311.0" cy="244.0" r="1.5" fill="#b86a6a"/>
<circle cx="150.5" cy="234.1" r="1.5" fill="#1fc6dc"/>
<circle cx="151.0" cy="233.7" r="1.5" fill="#1a88d0"/>
<circle cx="128.0" cy="308.0" r="1.5" fill="#ee8a22"/>
<circle cx="232.7" cy="157.1" r="1.8" fill="#a468d2"/>
<circle cx="192.1" cy="166.6" r="1.8" fill="#f08a88"/>
<circle cx="194.6" cy="198.7" r="1.8" fill="#ef4a48"/>
<circle cx="316.5" cy="244.0" r="1.8" fill="#b86a6a"/>
<circle cx="137.6" cy="180.4" r="1.8" fill="#1fc6dc"/>
<circle cx="126.6" cy="211.3" r="1.8" fill="#1a88d0"/>
<circle cx="159.2" cy="247.7" r="1.8" fill="#1a88d0"/>
<circle cx="277.0" cy="267.0" r="1.8" fill="#c9c92e"/>
<circle cx="130.5" cy="265.0" r="1.8" fill="#ee8a22"/>
<circle cx="119.6" cy="282.0" r="1.8" fill="#ee8a22"/>
<circle cx="240.4" cy="176.6" r="2.0" fill="#a468d2"/>
<circle cx="208.1" cy="179.1" r="2.0" fill="#a468d2"/>
<circle cx="231.0" cy="201.0" r="2.0" fill="#a468d2"/>
<circle cx="194.4" cy="226.9" r="2.0" fill="#a468d2"/>
<circle cx="194.0" cy="175.3" r="2.0" fill="#f08a88"/>
<circle cx="171.3" cy="191.3" r="2.0" fill="#ef4a48"/>
<circle cx="229.2" cy="185.4" r="2.0" fill="#ef4a48"/>
<circle cx="182.9" cy="202.7" r="2.0" fill="#ef4a48"/>
<circle cx="186.7" cy="215.5" r="2.0" fill="#ef4a48"/>
<circle cx="246.1" cy="220.7" r="2.0" fill="#ef4a48"/>
<circle cx="262.3" cy="220.2" r="2.0" fill="#ef4a48"/>
<circle cx="274.0" cy="231.5" r="2.0" fill="#ef4a48"/>
<circle cx="158.6" cy="229.4" r="2.0" fill="#ef4a48"/>
<circle cx="144.8" cy="191.2" r="2.0" fill="#1fc6dc"/>
<circle cx="134.5" cy="218.9" r="2.0" fill="#1fc6dc"/>
<circle cx="166.6" cy="223.7" r="2.0" fill="#1fc6dc"/>
<circle cx="178.6" cy="225.5" r="2.0" fill="#1fc6dc"/>
<circle cx="153.4" cy="270.8" r="2.0" fill="#1a88d0"/>
<circle cx="184.7" cy="264.5" r="2.0" fill="#1a88d0"/>
<circle cx="183.3" cy="275.5" r="2.0" fill="#1a88d0"/>
<circle cx="144.1" cy="240.1" r="2.0" fill="#1fb24a"/>
<circle cx="188.8" cy="255.8" r="2.0" fill="#1fb24a"/>
<circle cx="203.3" cy="278.4" r="2.0" fill="#1fb24a"/>
<circle cx="218.9" cy="257.6" r="2.0" fill="#1fb24a"/>
<circle cx="235.6" cy="254.4" r="2.0" fill="#1fb24a"/>
<circle cx="220.4" cy="247.7" r="2.0" fill="#c9c92e"/>
<circle cx="285.4" cy="278.0" r="2.0" fill="#c9c92e"/>
<circle cx="277.9" cy="288.4" r="2.0" fill="#c9c92e"/>
<circle cx="274.4" cy="291.4" r="2.0" fill="#c9c92e"/>
<circle cx="261.8" cy="298.9" r="2.0" fill="#c9c92e"/>
<circle cx="273.5" cy="298.9" r="2.0" fill="#c9c92e"/>
<circle cx="278.5" cy="300.4" r="2.0" fill="#c9c92e"/>
<circle cx="282.9" cy="298.9" r="2.0" fill="#c9c92e"/>
<circle cx="138.9" cy="254.9" r="2.0" fill="#ee8a22"/>
<circle cx="128.3" cy="286.8" r="2.0" fill="#ee8a22"/>
<circle cx="161.5" cy="296.8" r="2.0" fill="#ef82d2"/>
<circle cx="174.7" cy="306.8" r="2.0" fill="#ef82d2"/>
<circle cx="167.2" cy="311.9" r="2.0" fill="#ef82d2"/>
<circle cx="173.3" cy="311.9" r="2.0" fill="#ef82d2"/>
<circle cx="247.7" cy="200.7" r="2.2" fill="#ef4a48"/>
<circle cx="142.9" cy="181.6" r="2.2" fill="#1fc6dc"/>
<circle cx="154.3" cy="195.8" r="2.2" fill="#1a88d0"/>
<circle cx="136.7" cy="205.9" r="2.2" fill="#1a88d0"/>
<circle cx="145.2" cy="209.6" r="2.2" fill="#1a88d0"/>
<circle cx="202.2" cy="274.0" r="2.2" fill="#1fb24a"/>
<circle cx="198.5" cy="284.9" r="2.2" fill="#1fb24a"/>
<circle cx="280.5" cy="274.8" r="2.2" fill="#c9c92e"/>
<circle cx="122.1" cy="276.2" r="2.2" fill="#ee8a22"/>
<circle cx="172.7" cy="182.3" r="2.3" fill="#ef4a48"/>
<circle cx="225.2" cy="221.4" r="2.3" fill="#ef4a48"/>
<circle cx="144.3" cy="220.5" r="2.3" fill="#1a88d0"/>
<circle cx="181.5" cy="183.0" r="2.5" fill="#ef4a48"/>
<circle cx="217.4" cy="192.3" r="2.5" fill="#ef4a48"/>
<circle cx="175.3" cy="208.8" r="2.5" fill="#1fc6dc"/>
<circle cx="154.5" cy="205.0" r="2.5" fill="#1a88d0"/>
<circle cx="152.5" cy="220.1" r="2.5" fill="#1a88d0"/>
<circle cx="227.6" cy="270.4" r="2.5" fill="#1fb24a"/>
<circle cx="190.3" cy="283.2" r="2.5" fill="#1fb24a"/>
<circle cx="246.6" cy="257.1" r="2.5" fill="#1fb24a"/>
<circle cx="261.4" cy="276.6" r="2.5" fill="#c9c92e"/>
<circle cx="149.3" cy="245.3" r="2.6" fill="#1a88d0"/>
<circle cx="212.2" cy="199.9" r="2.8" fill="#ef4a48"/>
<circle cx="171.4" cy="250.8" r="2.8" fill="#1fb24a"/>
<circle cx="160.5" cy="263.1" r="2.8" fill="#1fb24a"/>
<circle cx="209.5" cy="264.5" r="2.8" fill="#1fb24a"/>
<circle cx="132.0" cy="276.2" r="2.8" fill="#ee8a22"/>
<circle cx="242.5" cy="167.3" r="3.0" fill="#a468d2"/>
<circle cx="239.5" cy="203.5" r="3.0" fill="#a468d2"/>
<circle cx="232.4" cy="216.8" r="3.0" fill="#a468d2"/>
<circle cx="169.5" cy="270.4" r="3.0" fill="#1a88d0"/>
<circle cx="252.6" cy="262.6" r="3.0" fill="#c9c92e"/>
<circle cx="139.5" cy="295.5" r="3.0" fill="#ee8a22"/>
<circle cx="221.0" cy="205.0" r="3.3" fill="#a468d2"/>
<circle cx="171.6" cy="243.4" r="3.5" fill="#1fb24a"/>
<circle cx="232.5" cy="243.8" r="3.5" fill="#1fb24a"/>
<circle cx="201.4" cy="202.0" r="3.6" fill="#1fc6dc"/>
<circle cx="241.6" cy="213.5" r="4.9" fill="#ef4a48"/>
<circle cx="203.5" cy="228.1" r="6.3" fill="#ef4a48"/>
<circle cx="203.5" cy="242.2" r="6.4" fill="#1fb24a"/>
<text x="242.3" y="148.23" font-size="3.7" text-anchor="middle" class="A" fill="#303030">extracellular matrix</text>
<text x="230.5" y="158.29" font-size="3.3" text-anchor="middle" class="A" fill="#303030">hydrogels</text>
<text x="223.0" y="163.50" font-size="3.6" text-anchor="middle" class="A" fill="#a8a8a8">drug delivery system</text>
<text x="242.2" y="169.03" font-size="4.8" text-anchor="middle" class="A" fill="#303030">tissue engineering</text>
<text x="242.0" y="177.93" font-size="3.7" text-anchor="middle" class="A" fill="#a8a8a8">bioengineering</text>
<text x="220.7" y="206.69" font-size="4.7" text-anchor="middle" class="A" fill="#303030">drug delivery</text>
<text x="192.5" y="167.90" font-size="3.6" text-anchor="middle" class="A" fill="#303030">nanoparticle</text>
<text x="194.0" y="176.70" font-size="3.9" text-anchor="middle" class="A" fill="#303030">emulsion</text>
<text x="181.4" y="184.44" font-size="4.0" text-anchor="middle" class="A" fill="#303030">microencapsulation</text>
<text x="221.0" y="178.00" font-size="3.9" text-anchor="middle" class="A" fill="#303030">biopolymer</text>
<text x="229.2" y="186.80" font-size="3.9" text-anchor="middle" class="A" fill="#303030">food packaging</text>
<text x="217.0" y="193.78" font-size="4.1" text-anchor="middle" class="A" fill="#303030">biopolymers</text>
<text x="183.0" y="204.07" font-size="3.8" text-anchor="middle" class="A" fill="#303030">emulsifier</text>
<text x="244.4" y="214.87" font-size="3.8" text-anchor="middle" class="A" fill="#303030">collagen</text>
<text x="262.3" y="221.57" font-size="3.8" text-anchor="middle" class="A" fill="#303030">adsorption</text>
<text x="273.6" y="232.80" font-size="3.6" text-anchor="middle" class="A" fill="#303030">starch</text>
<text x="282.3" y="247.67" font-size="3.8" text-anchor="middle" class="A" fill="#303030">carbohydrates</text>
<text x="303.5" y="245.30" font-size="3.6" text-anchor="middle" class="A" fill="#303030">fabp</text>
<text x="316.0" y="245.30" font-size="3.6" text-anchor="middle" class="A" fill="#303030">lignin</text>
<text x="204.0" y="230.40" font-size="6.4" text-anchor="middle" class="A" fill="#303030">polysaccharides</text>
<text x="143.0" y="183.00" font-size="3.9" text-anchor="middle" class="A" fill="#303030">bioavailability</text>
<text x="175.5" y="210.24" font-size="4.0" text-anchor="middle" class="A" fill="#303030">encapsulation</text>
<text x="154.6" y="197.31" font-size="4.2" text-anchor="middle" class="A" fill="#303030">bioactive compounds</text>
<text x="145.5" y="211.08" font-size="4.1" text-anchor="middle" class="A" fill="#303030">functional foods</text>
<text x="152.5" y="221.98" font-size="4.1" text-anchor="middle" class="A" fill="#303030">antioxidants</text>
<text x="151.0" y="234.96" font-size="3.5" text-anchor="middle" class="A" fill="#303030">squalene</text>
<text x="169.0" y="271.84" font-size="4.0" text-anchor="middle" class="A" fill="#303030">fucoidan</text>
<text x="184.7" y="265.76" font-size="3.5" text-anchor="middle" class="A" fill="#a8a8a8">synergy</text>
<text x="204.2" y="244.50" font-size="6.4" text-anchor="middle" class="A" fill="#303030">polysaccharide</text>
<text x="171.4" y="252.24" font-size="4.0" text-anchor="middle" class="A" fill="#303030">extraction</text>
<text x="236.0" y="245.24" font-size="4.0" text-anchor="middle" class="A" fill="#303030">pectin</text>
<text x="161.0" y="264.54" font-size="4.0" text-anchor="middle" class="A" fill="#303030">characterization</text>
<text x="209.5" y="265.94" font-size="4.0" text-anchor="middle" class="A" fill="#303030">structure</text>
<text x="228.0" y="271.88" font-size="4.1" text-anchor="middle" class="A" fill="#303030">physicochemical properties</text>
<text x="190.2" y="286.34" font-size="4.0" text-anchor="middle" class="A" fill="#303030">biological activity</text>
<text x="218.0" y="258.90" font-size="3.6" text-anchor="middle" class="A" fill="#303030">application</text>
<text x="254.5" y="258.40" font-size="3.6" text-anchor="middle" class="A" fill="#a8a8a8">phytochemicals</text>
<text x="253.0" y="264.29" font-size="4.7" text-anchor="middle" class="A" fill="#303030">cellulose</text>
<text x="277.5" y="268.40" font-size="3.9" text-anchor="middle" class="A" fill="#303030">mechanism</text>
<text x="262.2" y="278.00" font-size="3.9" text-anchor="middle" class="A" fill="#303030">cell wall</text>
<text x="280.5" y="276.20" font-size="3.9" text-anchor="middle" class="A" fill="#303030">biomass</text>
<text x="279.0" y="289.80" font-size="3.9" text-anchor="middle" class="A" fill="#303030">lignin</text>
<text x="278.5" y="301.88" font-size="4.1" text-anchor="middle" class="A" fill="#303030">glycosyltransferase</text>
<text x="138.9" y="256.30" font-size="3.9" text-anchor="middle" class="A" fill="#303030">obesity</text>
<text x="131.0" y="266.40" font-size="3.9" text-anchor="middle" class="A" fill="#303030">diabetes</text>
<text x="133.0" y="277.64" font-size="4.0" text-anchor="middle" class="A" fill="#303030">dietary fiber</text>
<text x="119.8" y="283.44" font-size="4.0" text-anchor="middle" class="A" fill="#303030">prebiotics</text>
<text x="140.0" y="297.23" font-size="4.8" text-anchor="middle" class="A" fill="#303030">gut microbiota</text>
<text x="128.0" y="309.44" font-size="4.0" text-anchor="middle" class="A" fill="#303030">short chain fatty acids</text>
<text x="174.6" y="308.24" font-size="4.0" text-anchor="middle" class="A" fill="#303030">antioxidant</text>
<text x="167.0" y="313.23" font-size="3.7" text-anchor="middle" class="A" fill="#a8a8a8">anti-inflammatory</text>
<path d="M151.3 188A59 43.5 0 1 1 246.9 212.3" fill="none" stroke="#e0c2ea" stroke-width="1.3" stroke-dasharray="4.1 3.9"/>
<path d="M264.5 158.3H330" fill="none" stroke="#dcc0e6" stroke-width="1.05" stroke-dasharray="3.0 5.2"/>
<ellipse cx="226" cy="234" rx="48" ry="23" fill="none" stroke="#f25a50" stroke-width="1.45" stroke-dasharray="3.8 4.1"/>
<path d="M274 230V237.8H330" fill="none" stroke="#f65a4c" stroke-width="1.5" stroke-dasharray="3.7 4.5"/>
<ellipse cx="182" cy="280" rx="65" ry="51" fill="none" stroke="#1fae50" stroke-width="1.7" stroke-dasharray="4.5 3.4"/>
<path d="M236 312.5L243.4 318.3H330" fill="none" stroke="#1fae50" stroke-width="1.35" stroke-dasharray="3.5 4.7"/>
<path d="M68.2 185.7L84.4 241.6L158 242.2" fill="none" stroke="#f23434" stroke-width="0.95"/>
<path d="M68.2 185.7L85.1 304.9H163.8" fill="none" stroke="#f23434" stroke-width="0.95"/>
<rect x="158" y="238" width="22.5" height="9.4" fill="none" stroke="#f23434" stroke-width="0.95"/>
<rect x="163.8" y="300.3" width="21.8" height="9.4" fill="none" stroke="#f23434" stroke-width="0.95"/>
<path d="M392.4 148.4H533.1Q537.6 148.4 537.6 152.9V161.9Q537.6 166.4 533.1 166.4H392.4Z" fill="#fde4e7"/>
<path d="M335.0 148.4H392.4V166.4H335.0Q330.5 166.4 330.5 161.9V152.9Q330.5 148.4 335.0 148.4Z" fill="#e2cde8"/>
<rect x="330.5" y="148.4" width="207.10000000000002" height="18.0" rx="4.5" fill="none" stroke="#4a4a4a" stroke-width="1.1"/>
<line x1="392.4" y1="148.4" x2="392.4" y2="166.4" stroke="#4a4a4a" stroke-width="0.9"/>
<text x="361.75" y="160.40" font-size="8.9" text-anchor="middle" class="Sb" fill="#111" stroke="#111" stroke-width="0.15" >Cluster A</text>
<text x="399.90" y="160.40" font-size="8.1" text-anchor="start" class="Sb" fill="#111" stroke="#111" stroke-width="0.15" >Biomedical and medicinal applications</text>
<path d="M392.4 228.5H533.1Q537.6 228.5 537.6 233.0V242.1Q537.6 246.6 533.1 246.6H392.4Z" fill="#fde4e7"/>
<path d="M335.0 228.5H392.4V246.6H335.0Q330.5 246.6 330.5 242.1V233.0Q330.5 228.5 335.0 228.5Z" fill="#fb6e63"/>
<rect x="330.5" y="228.5" width="207.10000000000002" height="18.099999999999994" rx="4.5" fill="none" stroke="#4a4a4a" stroke-width="1.1"/>
<line x1="392.4" y1="228.5" x2="392.4" y2="246.6" stroke="#4a4a4a" stroke-width="0.9"/>
<text x="361.75" y="240.55" font-size="8.9" text-anchor="middle" class="Sb" fill="#111" stroke="#111" stroke-width="0.15" >Cluster B</text>
<text x="399.90" y="240.55" font-size="8.14" text-anchor="start" class="Sb" fill="#111" stroke="#111" stroke-width="0.15" >Types of natural polysaccharides</text>
<path d="M392.4 308.6H533.1Q537.6 308.6 537.6 313.1V322.4Q537.6 326.9 533.1 326.9H392.4Z" fill="#fde4e7"/>
<path d="M335.0 308.6H392.4V326.9H335.0Q330.5 326.9 330.5 322.4V313.1Q330.5 308.6 335.0 308.6Z" fill="#25b862"/>
<rect x="330.5" y="308.6" width="207.10000000000002" height="18.299999999999955" rx="4.5" fill="none" stroke="#4a4a4a" stroke-width="1.1"/>
<line x1="392.4" y1="308.6" x2="392.4" y2="326.9" stroke="#4a4a4a" stroke-width="0.9"/>
<text x="361.75" y="320.75" font-size="8.9" text-anchor="middle" class="Sb" fill="#111" stroke="#111" stroke-width="0.15" >Cluster C</text>
<text x="399.90" y="320.75" font-size="8.6" text-anchor="start" class="Sb" fill="#111" stroke="#111" stroke-width="0.15" >Biological activities</text>
<rect x="5.95" y="3.95" width="540.05" height="335.4" rx="8.5" fill="none" stroke="#229ac5" stroke-width="1.9"/>
</svg>
</body></html>
